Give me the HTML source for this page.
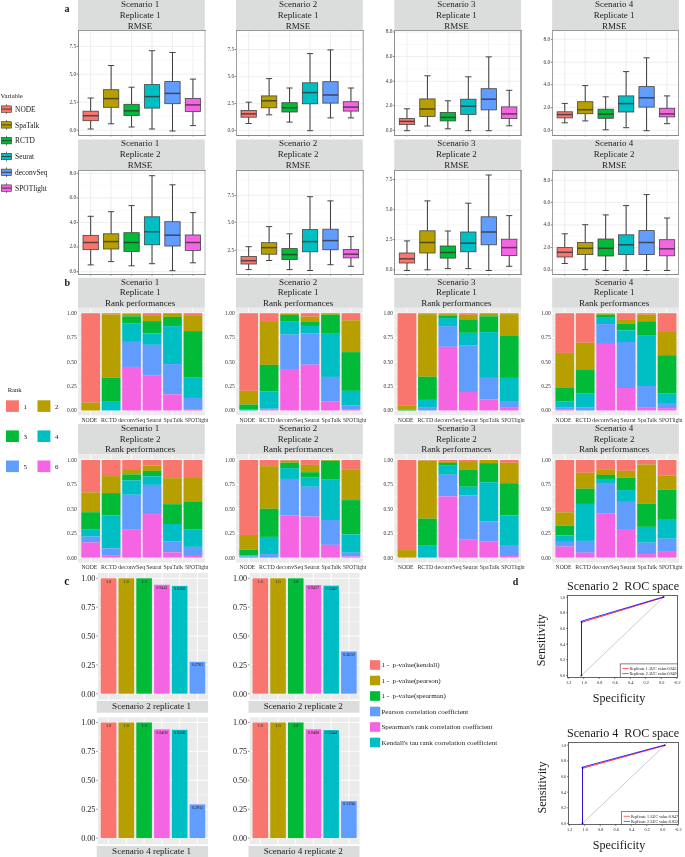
<!DOCTYPE html>
<html><head><meta charset="utf-8"><style>
html,body{margin:0;padding:0;background:#fff;}
body{width:685px;height:857px;overflow:hidden;}
svg{display:block;will-change:transform;font-family:"Liberation Serif", serif;}
</style></head><body>
<svg width="685" height="857" viewBox="0 0 685 857">
<rect x="0" y="0" width="685" height="857" fill="#FFFFFF"/>
<rect x="78.00" y="-1.00" width="126.80" height="31.20" fill="#DBDCDC"/>
<text x="140.10" y="6.95" font-size="9.0" text-anchor="middle" fill="#222" font-weight="normal">Scenario 1</text>
<text x="140.10" y="17.80" font-size="9.0" text-anchor="middle" fill="#222" font-weight="normal">Replicate 1</text>
<text x="140.10" y="28.65" font-size="9.0" text-anchor="middle" fill="#222" font-weight="normal">RMSE</text>
<rect x="78.00" y="30.20" width="126.80" height="104.80" fill="#FFFFFF"/>
<line x1="78.00" y1="116.20" x2="204.80" y2="116.20" stroke="#F2F2F2" stroke-width="0.5"/>
<line x1="78.00" y1="88.20" x2="204.80" y2="88.20" stroke="#F2F2F2" stroke-width="0.5"/>
<line x1="78.00" y1="60.20" x2="204.80" y2="60.20" stroke="#F2F2F2" stroke-width="0.5"/>
<line x1="78.00" y1="32.20" x2="204.80" y2="32.20" stroke="#F2F2F2" stroke-width="0.5"/>
<line x1="78.00" y1="130.20" x2="204.80" y2="130.20" stroke="#EBEBEB" stroke-width="0.8"/>
<line x1="78.00" y1="102.20" x2="204.80" y2="102.20" stroke="#EBEBEB" stroke-width="0.8"/>
<line x1="78.00" y1="74.20" x2="204.80" y2="74.20" stroke="#EBEBEB" stroke-width="0.8"/>
<line x1="78.00" y1="46.40" x2="204.80" y2="46.40" stroke="#EBEBEB" stroke-width="0.8"/>
<line x1="90.67" y1="30.20" x2="90.67" y2="135.00" stroke="#EBEBEB" stroke-width="0.8"/>
<line x1="111.12" y1="30.20" x2="111.12" y2="135.00" stroke="#EBEBEB" stroke-width="0.8"/>
<line x1="131.57" y1="30.20" x2="131.57" y2="135.00" stroke="#EBEBEB" stroke-width="0.8"/>
<line x1="152.03" y1="30.20" x2="152.03" y2="135.00" stroke="#EBEBEB" stroke-width="0.8"/>
<line x1="172.48" y1="30.20" x2="172.48" y2="135.00" stroke="#EBEBEB" stroke-width="0.8"/>
<line x1="192.93" y1="30.20" x2="192.93" y2="135.00" stroke="#EBEBEB" stroke-width="0.8"/>
<line x1="90.67" y1="98.00" x2="90.67" y2="111.20" stroke="#3a3a3a" stroke-width="1.0"/>
<line x1="90.67" y1="120.70" x2="90.67" y2="129.00" stroke="#3a3a3a" stroke-width="1.0"/>
<line x1="87.60" y1="98.00" x2="93.74" y2="98.00" stroke="#444444" stroke-width="1.0"/>
<line x1="87.60" y1="129.00" x2="93.74" y2="129.00" stroke="#444444" stroke-width="1.0"/>
<rect x="83.00" y="111.20" width="15.34" height="9.50" fill="#F8766D" stroke="#444444" stroke-width="0.8"/>
<line x1="83.00" y1="115.70" x2="98.34" y2="115.70" stroke="#333333" stroke-width="1.5" stroke-opacity="0.8"/>
<line x1="90.67" y1="135.00" x2="90.67" y2="136.50" stroke="#555555" stroke-width="0.6"/>
<line x1="111.12" y1="65.50" x2="111.12" y2="89.70" stroke="#3a3a3a" stroke-width="1.0"/>
<line x1="111.12" y1="107.30" x2="111.12" y2="123.80" stroke="#3a3a3a" stroke-width="1.0"/>
<line x1="108.05" y1="65.50" x2="114.19" y2="65.50" stroke="#444444" stroke-width="1.0"/>
<line x1="108.05" y1="123.80" x2="114.19" y2="123.80" stroke="#444444" stroke-width="1.0"/>
<rect x="103.45" y="89.70" width="15.34" height="17.60" fill="#B79F00" stroke="#444444" stroke-width="0.8"/>
<line x1="103.45" y1="98.60" x2="118.79" y2="98.60" stroke="#333333" stroke-width="1.5" stroke-opacity="0.8"/>
<line x1="111.12" y1="135.00" x2="111.12" y2="136.50" stroke="#555555" stroke-width="0.6"/>
<line x1="131.57" y1="87.20" x2="131.57" y2="104.30" stroke="#3a3a3a" stroke-width="1.0"/>
<line x1="131.57" y1="115.50" x2="131.57" y2="127.00" stroke="#3a3a3a" stroke-width="1.0"/>
<line x1="128.51" y1="87.20" x2="134.64" y2="87.20" stroke="#444444" stroke-width="1.0"/>
<line x1="128.51" y1="127.00" x2="134.64" y2="127.00" stroke="#444444" stroke-width="1.0"/>
<rect x="123.90" y="104.30" width="15.34" height="11.20" fill="#00BA38" stroke="#444444" stroke-width="0.8"/>
<line x1="123.90" y1="110.80" x2="139.24" y2="110.80" stroke="#333333" stroke-width="1.5" stroke-opacity="0.8"/>
<line x1="131.57" y1="135.00" x2="131.57" y2="136.50" stroke="#555555" stroke-width="0.6"/>
<line x1="152.03" y1="50.70" x2="152.03" y2="84.60" stroke="#3a3a3a" stroke-width="1.0"/>
<line x1="152.03" y1="108.10" x2="152.03" y2="129.00" stroke="#3a3a3a" stroke-width="1.0"/>
<line x1="148.96" y1="50.70" x2="155.09" y2="50.70" stroke="#444444" stroke-width="1.0"/>
<line x1="148.96" y1="129.00" x2="155.09" y2="129.00" stroke="#444444" stroke-width="1.0"/>
<rect x="144.36" y="84.60" width="15.34" height="23.50" fill="#00BFC4" stroke="#444444" stroke-width="0.8"/>
<line x1="144.36" y1="96.60" x2="159.70" y2="96.60" stroke="#333333" stroke-width="1.5" stroke-opacity="0.8"/>
<line x1="152.03" y1="135.00" x2="152.03" y2="136.50" stroke="#555555" stroke-width="0.6"/>
<line x1="172.48" y1="52.50" x2="172.48" y2="81.60" stroke="#3a3a3a" stroke-width="1.0"/>
<line x1="172.48" y1="103.70" x2="172.48" y2="131.00" stroke="#3a3a3a" stroke-width="1.0"/>
<line x1="169.41" y1="52.50" x2="175.55" y2="52.50" stroke="#444444" stroke-width="1.0"/>
<line x1="169.41" y1="131.00" x2="175.55" y2="131.00" stroke="#444444" stroke-width="1.0"/>
<rect x="164.81" y="81.60" width="15.34" height="22.10" fill="#619CFF" stroke="#444444" stroke-width="0.8"/>
<line x1="164.81" y1="93.40" x2="180.15" y2="93.40" stroke="#333333" stroke-width="1.5" stroke-opacity="0.8"/>
<line x1="172.48" y1="135.00" x2="172.48" y2="136.50" stroke="#555555" stroke-width="0.6"/>
<line x1="192.93" y1="79.10" x2="192.93" y2="98.40" stroke="#3a3a3a" stroke-width="1.0"/>
<line x1="192.93" y1="111.40" x2="192.93" y2="125.60" stroke="#3a3a3a" stroke-width="1.0"/>
<line x1="189.86" y1="79.10" x2="196.00" y2="79.10" stroke="#444444" stroke-width="1.0"/>
<line x1="189.86" y1="125.60" x2="196.00" y2="125.60" stroke="#444444" stroke-width="1.0"/>
<rect x="185.26" y="98.40" width="15.34" height="13.00" fill="#F564E3" stroke="#444444" stroke-width="0.8"/>
<line x1="185.26" y1="104.90" x2="200.60" y2="104.90" stroke="#333333" stroke-width="1.5" stroke-opacity="0.8"/>
<line x1="192.93" y1="135.00" x2="192.93" y2="136.50" stroke="#555555" stroke-width="0.6"/>
<line x1="78.00" y1="30.50" x2="206.00" y2="30.50" stroke="#999999" stroke-width="1"/>
<line x1="78.00" y1="135.50" x2="206.00" y2="135.50" stroke="#8a8a8a" stroke-width="1"/>
<line x1="78.50" y1="30.50" x2="78.50" y2="135.50" stroke="#8a8a8a" stroke-width="1"/>
<line x1="205.00" y1="31.00" x2="205.00" y2="135.00" stroke="#dddddd" stroke-width="2"/>
<line x1="76.50" y1="130.20" x2="78.00" y2="130.20" stroke="#333333" stroke-width="0.6"/>
<text x="76.10" y="131.50" font-size="5.3" text-anchor="end" fill="#333333" font-weight="normal">0.0</text>
<line x1="76.50" y1="102.20" x2="78.00" y2="102.20" stroke="#333333" stroke-width="0.6"/>
<text x="76.10" y="103.50" font-size="5.3" text-anchor="end" fill="#333333" font-weight="normal">2.5</text>
<line x1="76.50" y1="74.20" x2="78.00" y2="74.20" stroke="#333333" stroke-width="0.6"/>
<text x="76.10" y="75.50" font-size="5.3" text-anchor="end" fill="#333333" font-weight="normal">5.0</text>
<line x1="76.50" y1="46.40" x2="78.00" y2="46.40" stroke="#333333" stroke-width="0.6"/>
<text x="76.10" y="47.70" font-size="5.3" text-anchor="end" fill="#333333" font-weight="normal">7.5</text>
<rect x="236.00" y="-1.00" width="126.80" height="31.20" fill="#DBDCDC"/>
<text x="298.10" y="6.95" font-size="9.0" text-anchor="middle" fill="#222" font-weight="normal">Scenario 2</text>
<text x="298.10" y="17.80" font-size="9.0" text-anchor="middle" fill="#222" font-weight="normal">Replicate 1</text>
<text x="298.10" y="28.65" font-size="9.0" text-anchor="middle" fill="#222" font-weight="normal">RMSE</text>
<rect x="236.00" y="30.20" width="126.80" height="104.80" fill="#FFFFFF"/>
<line x1="236.00" y1="116.85" x2="362.80" y2="116.85" stroke="#F2F2F2" stroke-width="0.5"/>
<line x1="236.00" y1="89.95" x2="362.80" y2="89.95" stroke="#F2F2F2" stroke-width="0.5"/>
<line x1="236.00" y1="63.05" x2="362.80" y2="63.05" stroke="#F2F2F2" stroke-width="0.5"/>
<line x1="236.00" y1="36.15" x2="362.80" y2="36.15" stroke="#F2F2F2" stroke-width="0.5"/>
<line x1="236.00" y1="130.30" x2="362.80" y2="130.30" stroke="#EBEBEB" stroke-width="0.8"/>
<line x1="236.00" y1="103.40" x2="362.80" y2="103.40" stroke="#EBEBEB" stroke-width="0.8"/>
<line x1="236.00" y1="76.60" x2="362.80" y2="76.60" stroke="#EBEBEB" stroke-width="0.8"/>
<line x1="236.00" y1="49.50" x2="362.80" y2="49.50" stroke="#EBEBEB" stroke-width="0.8"/>
<line x1="248.67" y1="30.20" x2="248.67" y2="135.00" stroke="#EBEBEB" stroke-width="0.8"/>
<line x1="269.12" y1="30.20" x2="269.12" y2="135.00" stroke="#EBEBEB" stroke-width="0.8"/>
<line x1="289.57" y1="30.20" x2="289.57" y2="135.00" stroke="#EBEBEB" stroke-width="0.8"/>
<line x1="310.03" y1="30.20" x2="310.03" y2="135.00" stroke="#EBEBEB" stroke-width="0.8"/>
<line x1="330.48" y1="30.20" x2="330.48" y2="135.00" stroke="#EBEBEB" stroke-width="0.8"/>
<line x1="350.93" y1="30.20" x2="350.93" y2="135.00" stroke="#EBEBEB" stroke-width="0.8"/>
<line x1="248.67" y1="102.20" x2="248.67" y2="110.40" stroke="#3a3a3a" stroke-width="1.0"/>
<line x1="248.67" y1="117.20" x2="248.67" y2="123.50" stroke="#3a3a3a" stroke-width="1.0"/>
<line x1="245.60" y1="102.20" x2="251.74" y2="102.20" stroke="#444444" stroke-width="1.0"/>
<line x1="245.60" y1="123.50" x2="251.74" y2="123.50" stroke="#444444" stroke-width="1.0"/>
<rect x="241.00" y="110.40" width="15.34" height="6.80" fill="#F8766D" stroke="#444444" stroke-width="0.8"/>
<line x1="241.00" y1="113.90" x2="256.34" y2="113.90" stroke="#333333" stroke-width="1.5" stroke-opacity="0.8"/>
<line x1="248.67" y1="135.00" x2="248.67" y2="136.50" stroke="#555555" stroke-width="0.6"/>
<line x1="269.12" y1="78.60" x2="269.12" y2="95.90" stroke="#3a3a3a" stroke-width="1.0"/>
<line x1="269.12" y1="107.80" x2="269.12" y2="114.80" stroke="#3a3a3a" stroke-width="1.0"/>
<line x1="266.05" y1="78.60" x2="272.19" y2="78.60" stroke="#444444" stroke-width="1.0"/>
<line x1="266.05" y1="114.80" x2="272.19" y2="114.80" stroke="#444444" stroke-width="1.0"/>
<rect x="261.45" y="95.90" width="15.34" height="11.90" fill="#B79F00" stroke="#444444" stroke-width="0.8"/>
<line x1="261.45" y1="100.80" x2="276.79" y2="100.80" stroke="#333333" stroke-width="1.5" stroke-opacity="0.8"/>
<line x1="269.12" y1="135.00" x2="269.12" y2="136.50" stroke="#555555" stroke-width="0.6"/>
<line x1="289.57" y1="88.00" x2="289.57" y2="102.70" stroke="#3a3a3a" stroke-width="1.0"/>
<line x1="289.57" y1="112.00" x2="289.57" y2="122.10" stroke="#3a3a3a" stroke-width="1.0"/>
<line x1="286.51" y1="88.00" x2="292.64" y2="88.00" stroke="#444444" stroke-width="1.0"/>
<line x1="286.51" y1="122.10" x2="292.64" y2="122.10" stroke="#444444" stroke-width="1.0"/>
<rect x="281.90" y="102.70" width="15.34" height="9.30" fill="#00BA38" stroke="#444444" stroke-width="0.8"/>
<line x1="281.90" y1="107.80" x2="297.24" y2="107.80" stroke="#333333" stroke-width="1.5" stroke-opacity="0.8"/>
<line x1="289.57" y1="135.00" x2="289.57" y2="136.50" stroke="#555555" stroke-width="0.6"/>
<line x1="310.03" y1="53.60" x2="310.03" y2="82.80" stroke="#3a3a3a" stroke-width="1.0"/>
<line x1="310.03" y1="103.80" x2="310.03" y2="130.70" stroke="#3a3a3a" stroke-width="1.0"/>
<line x1="306.96" y1="53.60" x2="313.09" y2="53.60" stroke="#444444" stroke-width="1.0"/>
<line x1="306.96" y1="130.70" x2="313.09" y2="130.70" stroke="#444444" stroke-width="1.0"/>
<rect x="302.36" y="82.80" width="15.34" height="21.00" fill="#00BFC4" stroke="#444444" stroke-width="0.8"/>
<line x1="302.36" y1="92.60" x2="317.70" y2="92.60" stroke="#333333" stroke-width="1.5" stroke-opacity="0.8"/>
<line x1="310.03" y1="135.00" x2="310.03" y2="136.50" stroke="#555555" stroke-width="0.6"/>
<line x1="330.48" y1="49.90" x2="330.48" y2="81.70" stroke="#3a3a3a" stroke-width="1.0"/>
<line x1="330.48" y1="103.10" x2="330.48" y2="117.90" stroke="#3a3a3a" stroke-width="1.0"/>
<line x1="327.41" y1="49.90" x2="333.55" y2="49.90" stroke="#444444" stroke-width="1.0"/>
<line x1="327.41" y1="117.90" x2="333.55" y2="117.90" stroke="#444444" stroke-width="1.0"/>
<rect x="322.81" y="81.70" width="15.34" height="21.40" fill="#619CFF" stroke="#444444" stroke-width="0.8"/>
<line x1="322.81" y1="95.00" x2="338.15" y2="95.00" stroke="#333333" stroke-width="1.5" stroke-opacity="0.8"/>
<line x1="330.48" y1="135.00" x2="330.48" y2="136.50" stroke="#555555" stroke-width="0.6"/>
<line x1="350.93" y1="88.00" x2="350.93" y2="101.70" stroke="#3a3a3a" stroke-width="1.0"/>
<line x1="350.93" y1="111.10" x2="350.93" y2="117.90" stroke="#3a3a3a" stroke-width="1.0"/>
<line x1="347.86" y1="88.00" x2="354.00" y2="88.00" stroke="#444444" stroke-width="1.0"/>
<line x1="347.86" y1="117.90" x2="354.00" y2="117.90" stroke="#444444" stroke-width="1.0"/>
<rect x="343.26" y="101.70" width="15.34" height="9.40" fill="#F564E3" stroke="#444444" stroke-width="0.8"/>
<line x1="343.26" y1="107.10" x2="358.60" y2="107.10" stroke="#333333" stroke-width="1.5" stroke-opacity="0.8"/>
<line x1="350.93" y1="135.00" x2="350.93" y2="136.50" stroke="#555555" stroke-width="0.6"/>
<line x1="236.00" y1="30.50" x2="364.00" y2="30.50" stroke="#999999" stroke-width="1"/>
<line x1="236.00" y1="135.50" x2="364.00" y2="135.50" stroke="#8a8a8a" stroke-width="1"/>
<line x1="236.50" y1="30.50" x2="236.50" y2="135.50" stroke="#a0a0a0" stroke-width="1"/>
<line x1="362.50" y1="31.00" x2="362.50" y2="135.00" stroke="#e0e0e0" stroke-width="1"/>
<line x1="363.50" y1="31.00" x2="363.50" y2="135.00" stroke="#b8b8b8" stroke-width="1"/>
<line x1="234.50" y1="130.30" x2="236.00" y2="130.30" stroke="#333333" stroke-width="0.6"/>
<text x="234.10" y="131.60" font-size="5.3" text-anchor="end" fill="#333333" font-weight="normal">0.0</text>
<line x1="234.50" y1="103.40" x2="236.00" y2="103.40" stroke="#333333" stroke-width="0.6"/>
<text x="234.10" y="104.70" font-size="5.3" text-anchor="end" fill="#333333" font-weight="normal">2.5</text>
<line x1="234.50" y1="76.60" x2="236.00" y2="76.60" stroke="#333333" stroke-width="0.6"/>
<text x="234.10" y="77.90" font-size="5.3" text-anchor="end" fill="#333333" font-weight="normal">5.0</text>
<line x1="234.50" y1="49.50" x2="236.00" y2="49.50" stroke="#333333" stroke-width="0.6"/>
<text x="234.10" y="50.80" font-size="5.3" text-anchor="end" fill="#333333" font-weight="normal">7.5</text>
<rect x="394.30" y="-1.00" width="126.80" height="31.20" fill="#DBDCDC"/>
<text x="456.40" y="6.95" font-size="9.0" text-anchor="middle" fill="#222" font-weight="normal">Scenario 3</text>
<text x="456.40" y="17.80" font-size="9.0" text-anchor="middle" fill="#222" font-weight="normal">Replicate 1</text>
<text x="456.40" y="28.65" font-size="9.0" text-anchor="middle" fill="#222" font-weight="normal">RMSE</text>
<rect x="394.30" y="30.20" width="126.80" height="104.80" fill="#FFFFFF"/>
<line x1="394.30" y1="118.05" x2="521.10" y2="118.05" stroke="#F2F2F2" stroke-width="0.5"/>
<line x1="394.30" y1="93.55" x2="521.10" y2="93.55" stroke="#F2F2F2" stroke-width="0.5"/>
<line x1="394.30" y1="69.05" x2="521.10" y2="69.05" stroke="#F2F2F2" stroke-width="0.5"/>
<line x1="394.30" y1="44.55" x2="521.10" y2="44.55" stroke="#F2F2F2" stroke-width="0.5"/>
<line x1="394.30" y1="130.30" x2="521.10" y2="130.30" stroke="#EBEBEB" stroke-width="0.8"/>
<line x1="394.30" y1="105.80" x2="521.10" y2="105.80" stroke="#EBEBEB" stroke-width="0.8"/>
<line x1="394.30" y1="81.30" x2="521.10" y2="81.30" stroke="#EBEBEB" stroke-width="0.8"/>
<line x1="394.30" y1="56.50" x2="521.10" y2="56.50" stroke="#EBEBEB" stroke-width="0.8"/>
<line x1="394.30" y1="32.00" x2="521.10" y2="32.00" stroke="#EBEBEB" stroke-width="0.8"/>
<line x1="406.97" y1="30.20" x2="406.97" y2="135.00" stroke="#EBEBEB" stroke-width="0.8"/>
<line x1="427.42" y1="30.20" x2="427.42" y2="135.00" stroke="#EBEBEB" stroke-width="0.8"/>
<line x1="447.87" y1="30.20" x2="447.87" y2="135.00" stroke="#EBEBEB" stroke-width="0.8"/>
<line x1="468.33" y1="30.20" x2="468.33" y2="135.00" stroke="#EBEBEB" stroke-width="0.8"/>
<line x1="488.78" y1="30.20" x2="488.78" y2="135.00" stroke="#EBEBEB" stroke-width="0.8"/>
<line x1="509.23" y1="30.20" x2="509.23" y2="135.00" stroke="#EBEBEB" stroke-width="0.8"/>
<line x1="406.97" y1="108.80" x2="406.97" y2="118.60" stroke="#3a3a3a" stroke-width="1.0"/>
<line x1="406.97" y1="124.60" x2="406.97" y2="130.70" stroke="#3a3a3a" stroke-width="1.0"/>
<line x1="403.90" y1="108.80" x2="410.04" y2="108.80" stroke="#444444" stroke-width="1.0"/>
<line x1="403.90" y1="130.70" x2="410.04" y2="130.70" stroke="#444444" stroke-width="1.0"/>
<rect x="399.30" y="118.60" width="15.34" height="6.00" fill="#F8766D" stroke="#444444" stroke-width="0.8"/>
<line x1="399.30" y1="121.40" x2="414.64" y2="121.40" stroke="#333333" stroke-width="1.5" stroke-opacity="0.8"/>
<line x1="406.97" y1="135.00" x2="406.97" y2="136.50" stroke="#555555" stroke-width="0.6"/>
<line x1="427.42" y1="75.80" x2="427.42" y2="98.90" stroke="#3a3a3a" stroke-width="1.0"/>
<line x1="427.42" y1="116.50" x2="427.42" y2="126.00" stroke="#3a3a3a" stroke-width="1.0"/>
<line x1="424.35" y1="75.80" x2="430.49" y2="75.80" stroke="#444444" stroke-width="1.0"/>
<line x1="424.35" y1="126.00" x2="430.49" y2="126.00" stroke="#444444" stroke-width="1.0"/>
<rect x="419.75" y="98.90" width="15.34" height="17.60" fill="#B79F00" stroke="#444444" stroke-width="0.8"/>
<line x1="419.75" y1="109.00" x2="435.09" y2="109.00" stroke="#333333" stroke-width="1.5" stroke-opacity="0.8"/>
<line x1="427.42" y1="135.00" x2="427.42" y2="136.50" stroke="#555555" stroke-width="0.6"/>
<line x1="447.87" y1="100.80" x2="447.87" y2="112.50" stroke="#3a3a3a" stroke-width="1.0"/>
<line x1="447.87" y1="120.90" x2="447.87" y2="128.80" stroke="#3a3a3a" stroke-width="1.0"/>
<line x1="444.81" y1="100.80" x2="450.94" y2="100.80" stroke="#444444" stroke-width="1.0"/>
<line x1="444.81" y1="128.80" x2="450.94" y2="128.80" stroke="#444444" stroke-width="1.0"/>
<rect x="440.20" y="112.50" width="15.34" height="8.40" fill="#00BA38" stroke="#444444" stroke-width="0.8"/>
<line x1="440.20" y1="117.40" x2="455.54" y2="117.40" stroke="#333333" stroke-width="1.5" stroke-opacity="0.8"/>
<line x1="447.87" y1="135.00" x2="447.87" y2="136.50" stroke="#555555" stroke-width="0.6"/>
<line x1="468.33" y1="76.80" x2="468.33" y2="99.20" stroke="#3a3a3a" stroke-width="1.0"/>
<line x1="468.33" y1="114.40" x2="468.33" y2="130.70" stroke="#3a3a3a" stroke-width="1.0"/>
<line x1="465.26" y1="76.80" x2="471.39" y2="76.80" stroke="#444444" stroke-width="1.0"/>
<line x1="465.26" y1="130.70" x2="471.39" y2="130.70" stroke="#444444" stroke-width="1.0"/>
<rect x="460.66" y="99.20" width="15.34" height="15.20" fill="#00BFC4" stroke="#444444" stroke-width="0.8"/>
<line x1="460.66" y1="106.20" x2="476.00" y2="106.20" stroke="#333333" stroke-width="1.5" stroke-opacity="0.8"/>
<line x1="468.33" y1="135.00" x2="468.33" y2="136.50" stroke="#555555" stroke-width="0.6"/>
<line x1="488.78" y1="56.90" x2="488.78" y2="88.70" stroke="#3a3a3a" stroke-width="1.0"/>
<line x1="488.78" y1="109.90" x2="488.78" y2="130.70" stroke="#3a3a3a" stroke-width="1.0"/>
<line x1="485.71" y1="56.90" x2="491.85" y2="56.90" stroke="#444444" stroke-width="1.0"/>
<line x1="485.71" y1="130.70" x2="491.85" y2="130.70" stroke="#444444" stroke-width="1.0"/>
<rect x="481.11" y="88.70" width="15.34" height="21.20" fill="#619CFF" stroke="#444444" stroke-width="0.8"/>
<line x1="481.11" y1="99.20" x2="496.45" y2="99.20" stroke="#333333" stroke-width="1.5" stroke-opacity="0.8"/>
<line x1="488.78" y1="135.00" x2="488.78" y2="136.50" stroke="#555555" stroke-width="0.6"/>
<line x1="509.23" y1="90.30" x2="509.23" y2="106.90" stroke="#3a3a3a" stroke-width="1.0"/>
<line x1="509.23" y1="118.60" x2="509.23" y2="125.80" stroke="#3a3a3a" stroke-width="1.0"/>
<line x1="506.16" y1="90.30" x2="512.30" y2="90.30" stroke="#444444" stroke-width="1.0"/>
<line x1="506.16" y1="125.80" x2="512.30" y2="125.80" stroke="#444444" stroke-width="1.0"/>
<rect x="501.56" y="106.90" width="15.34" height="11.70" fill="#F564E3" stroke="#444444" stroke-width="0.8"/>
<line x1="501.56" y1="113.90" x2="516.90" y2="113.90" stroke="#333333" stroke-width="1.5" stroke-opacity="0.8"/>
<line x1="509.23" y1="135.00" x2="509.23" y2="136.50" stroke="#555555" stroke-width="0.6"/>
<line x1="394.00" y1="30.50" x2="522.00" y2="30.50" stroke="#999999" stroke-width="1"/>
<line x1="394.00" y1="135.50" x2="522.00" y2="135.50" stroke="#8a8a8a" stroke-width="1"/>
<line x1="394.50" y1="30.50" x2="394.50" y2="135.50" stroke="#909090" stroke-width="1"/>
<line x1="521.00" y1="31.00" x2="521.00" y2="135.00" stroke="#b0b0b0" stroke-width="2"/>
<line x1="392.80" y1="130.30" x2="394.30" y2="130.30" stroke="#333333" stroke-width="0.6"/>
<text x="392.40" y="131.60" font-size="5.3" text-anchor="end" fill="#333333" font-weight="normal">0.0</text>
<line x1="392.80" y1="105.80" x2="394.30" y2="105.80" stroke="#333333" stroke-width="0.6"/>
<text x="392.40" y="107.10" font-size="5.3" text-anchor="end" fill="#333333" font-weight="normal">2.0</text>
<line x1="392.80" y1="81.30" x2="394.30" y2="81.30" stroke="#333333" stroke-width="0.6"/>
<text x="392.40" y="82.60" font-size="5.3" text-anchor="end" fill="#333333" font-weight="normal">4.0</text>
<line x1="392.80" y1="56.50" x2="394.30" y2="56.50" stroke="#333333" stroke-width="0.6"/>
<text x="392.40" y="57.80" font-size="5.3" text-anchor="end" fill="#333333" font-weight="normal">6.0</text>
<line x1="392.80" y1="32.00" x2="394.30" y2="32.00" stroke="#333333" stroke-width="0.6"/>
<text x="392.40" y="33.30" font-size="5.3" text-anchor="end" fill="#333333" font-weight="normal">8.0</text>
<rect x="552.10" y="-1.00" width="126.80" height="31.20" fill="#DBDCDC"/>
<text x="614.20" y="6.95" font-size="9.0" text-anchor="middle" fill="#222" font-weight="normal">Scenario 4</text>
<text x="614.20" y="17.80" font-size="9.0" text-anchor="middle" fill="#222" font-weight="normal">Replicate 1</text>
<text x="614.20" y="28.65" font-size="9.0" text-anchor="middle" fill="#222" font-weight="normal">RMSE</text>
<rect x="552.10" y="30.20" width="126.80" height="104.80" fill="#FFFFFF"/>
<line x1="552.10" y1="119.00" x2="678.90" y2="119.00" stroke="#F2F2F2" stroke-width="0.5"/>
<line x1="552.10" y1="96.40" x2="678.90" y2="96.40" stroke="#F2F2F2" stroke-width="0.5"/>
<line x1="552.10" y1="73.80" x2="678.90" y2="73.80" stroke="#F2F2F2" stroke-width="0.5"/>
<line x1="552.10" y1="51.20" x2="678.90" y2="51.20" stroke="#F2F2F2" stroke-width="0.5"/>
<line x1="552.10" y1="130.30" x2="678.90" y2="130.30" stroke="#EBEBEB" stroke-width="0.8"/>
<line x1="552.10" y1="107.70" x2="678.90" y2="107.70" stroke="#EBEBEB" stroke-width="0.8"/>
<line x1="552.10" y1="84.80" x2="678.90" y2="84.80" stroke="#EBEBEB" stroke-width="0.8"/>
<line x1="552.10" y1="62.30" x2="678.90" y2="62.30" stroke="#EBEBEB" stroke-width="0.8"/>
<line x1="552.10" y1="39.20" x2="678.90" y2="39.20" stroke="#EBEBEB" stroke-width="0.8"/>
<line x1="564.77" y1="30.20" x2="564.77" y2="135.00" stroke="#EBEBEB" stroke-width="0.8"/>
<line x1="585.22" y1="30.20" x2="585.22" y2="135.00" stroke="#EBEBEB" stroke-width="0.8"/>
<line x1="605.67" y1="30.20" x2="605.67" y2="135.00" stroke="#EBEBEB" stroke-width="0.8"/>
<line x1="626.13" y1="30.20" x2="626.13" y2="135.00" stroke="#EBEBEB" stroke-width="0.8"/>
<line x1="646.58" y1="30.20" x2="646.58" y2="135.00" stroke="#EBEBEB" stroke-width="0.8"/>
<line x1="667.03" y1="30.20" x2="667.03" y2="135.00" stroke="#EBEBEB" stroke-width="0.8"/>
<line x1="564.77" y1="103.40" x2="564.77" y2="111.80" stroke="#3a3a3a" stroke-width="1.0"/>
<line x1="564.77" y1="117.90" x2="564.77" y2="122.80" stroke="#3a3a3a" stroke-width="1.0"/>
<line x1="561.70" y1="103.40" x2="567.84" y2="103.40" stroke="#444444" stroke-width="1.0"/>
<line x1="561.70" y1="122.80" x2="567.84" y2="122.80" stroke="#444444" stroke-width="1.0"/>
<rect x="557.10" y="111.80" width="15.34" height="6.10" fill="#F8766D" stroke="#444444" stroke-width="0.8"/>
<line x1="557.10" y1="114.60" x2="572.44" y2="114.60" stroke="#333333" stroke-width="1.5" stroke-opacity="0.8"/>
<line x1="564.77" y1="135.00" x2="564.77" y2="136.50" stroke="#555555" stroke-width="0.6"/>
<line x1="585.22" y1="85.60" x2="585.22" y2="101.70" stroke="#3a3a3a" stroke-width="1.0"/>
<line x1="585.22" y1="113.70" x2="585.22" y2="120.90" stroke="#3a3a3a" stroke-width="1.0"/>
<line x1="582.15" y1="85.60" x2="588.29" y2="85.60" stroke="#444444" stroke-width="1.0"/>
<line x1="582.15" y1="120.90" x2="588.29" y2="120.90" stroke="#444444" stroke-width="1.0"/>
<rect x="577.55" y="101.70" width="15.34" height="12.00" fill="#B79F00" stroke="#444444" stroke-width="0.8"/>
<line x1="577.55" y1="109.70" x2="592.89" y2="109.70" stroke="#333333" stroke-width="1.5" stroke-opacity="0.8"/>
<line x1="585.22" y1="135.00" x2="585.22" y2="136.50" stroke="#555555" stroke-width="0.6"/>
<line x1="605.67" y1="96.80" x2="605.67" y2="109.20" stroke="#3a3a3a" stroke-width="1.0"/>
<line x1="605.67" y1="118.30" x2="605.67" y2="129.80" stroke="#3a3a3a" stroke-width="1.0"/>
<line x1="602.61" y1="96.80" x2="608.74" y2="96.80" stroke="#444444" stroke-width="1.0"/>
<line x1="602.61" y1="129.80" x2="608.74" y2="129.80" stroke="#444444" stroke-width="1.0"/>
<rect x="598.00" y="109.20" width="15.34" height="9.10" fill="#00BA38" stroke="#444444" stroke-width="0.8"/>
<line x1="598.00" y1="114.10" x2="613.34" y2="114.10" stroke="#333333" stroke-width="1.5" stroke-opacity="0.8"/>
<line x1="605.67" y1="135.00" x2="605.67" y2="136.50" stroke="#555555" stroke-width="0.6"/>
<line x1="626.13" y1="71.60" x2="626.13" y2="95.90" stroke="#3a3a3a" stroke-width="1.0"/>
<line x1="626.13" y1="112.00" x2="626.13" y2="127.70" stroke="#3a3a3a" stroke-width="1.0"/>
<line x1="623.06" y1="71.60" x2="629.19" y2="71.60" stroke="#444444" stroke-width="1.0"/>
<line x1="623.06" y1="127.70" x2="629.19" y2="127.70" stroke="#444444" stroke-width="1.0"/>
<rect x="618.46" y="95.90" width="15.34" height="16.10" fill="#00BFC4" stroke="#444444" stroke-width="0.8"/>
<line x1="618.46" y1="103.60" x2="633.80" y2="103.60" stroke="#333333" stroke-width="1.5" stroke-opacity="0.8"/>
<line x1="626.13" y1="135.00" x2="626.13" y2="136.50" stroke="#555555" stroke-width="0.6"/>
<line x1="646.58" y1="57.80" x2="646.58" y2="86.60" stroke="#3a3a3a" stroke-width="1.0"/>
<line x1="646.58" y1="107.10" x2="646.58" y2="130.70" stroke="#3a3a3a" stroke-width="1.0"/>
<line x1="643.51" y1="57.80" x2="649.65" y2="57.80" stroke="#444444" stroke-width="1.0"/>
<line x1="643.51" y1="130.70" x2="649.65" y2="130.70" stroke="#444444" stroke-width="1.0"/>
<rect x="638.91" y="86.60" width="15.34" height="20.50" fill="#619CFF" stroke="#444444" stroke-width="0.8"/>
<line x1="638.91" y1="97.80" x2="654.25" y2="97.80" stroke="#333333" stroke-width="1.5" stroke-opacity="0.8"/>
<line x1="646.58" y1="135.00" x2="646.58" y2="136.50" stroke="#555555" stroke-width="0.6"/>
<line x1="667.03" y1="95.90" x2="667.03" y2="108.30" stroke="#3a3a3a" stroke-width="1.0"/>
<line x1="667.03" y1="116.90" x2="667.03" y2="123.70" stroke="#3a3a3a" stroke-width="1.0"/>
<line x1="663.96" y1="95.90" x2="670.10" y2="95.90" stroke="#444444" stroke-width="1.0"/>
<line x1="663.96" y1="123.70" x2="670.10" y2="123.70" stroke="#444444" stroke-width="1.0"/>
<rect x="659.36" y="108.30" width="15.34" height="8.60" fill="#F564E3" stroke="#444444" stroke-width="0.8"/>
<line x1="659.36" y1="113.90" x2="674.70" y2="113.90" stroke="#333333" stroke-width="1.5" stroke-opacity="0.8"/>
<line x1="667.03" y1="135.00" x2="667.03" y2="136.50" stroke="#555555" stroke-width="0.6"/>
<line x1="552.00" y1="30.50" x2="679.00" y2="30.50" stroke="#999999" stroke-width="1"/>
<line x1="552.00" y1="135.50" x2="679.00" y2="135.50" stroke="#8a8a8a" stroke-width="1"/>
<line x1="552.50" y1="30.50" x2="552.50" y2="135.50" stroke="#a0a0a0" stroke-width="1"/>
<line x1="678.50" y1="31.00" x2="678.50" y2="135.00" stroke="#a0a0a0" stroke-width="1"/>
<line x1="550.60" y1="130.30" x2="552.10" y2="130.30" stroke="#333333" stroke-width="0.6"/>
<text x="550.20" y="131.60" font-size="5.3" text-anchor="end" fill="#333333" font-weight="normal">0.0</text>
<line x1="550.60" y1="107.70" x2="552.10" y2="107.70" stroke="#333333" stroke-width="0.6"/>
<text x="550.20" y="109.00" font-size="5.3" text-anchor="end" fill="#333333" font-weight="normal">2.0</text>
<line x1="550.60" y1="84.80" x2="552.10" y2="84.80" stroke="#333333" stroke-width="0.6"/>
<text x="550.20" y="86.10" font-size="5.3" text-anchor="end" fill="#333333" font-weight="normal">4.0</text>
<line x1="550.60" y1="62.30" x2="552.10" y2="62.30" stroke="#333333" stroke-width="0.6"/>
<text x="550.20" y="63.60" font-size="5.3" text-anchor="end" fill="#333333" font-weight="normal">6.0</text>
<line x1="550.60" y1="39.20" x2="552.10" y2="39.20" stroke="#333333" stroke-width="0.6"/>
<text x="550.20" y="40.50" font-size="5.3" text-anchor="end" fill="#333333" font-weight="normal">8.0</text>
<rect x="78.00" y="139.50" width="126.80" height="30.60" fill="#DBDCDC"/>
<text x="140.10" y="145.90" font-size="9.0" text-anchor="middle" fill="#222" font-weight="normal">Scenario 1</text>
<text x="140.10" y="156.85" font-size="9.0" text-anchor="middle" fill="#222" font-weight="normal">Replicate 2</text>
<text x="140.10" y="167.80" font-size="9.0" text-anchor="middle" fill="#222" font-weight="normal">RMSE</text>
<rect x="78.00" y="170.10" width="126.80" height="104.20" fill="#FFFFFF"/>
<line x1="78.00" y1="259.35" x2="204.80" y2="259.35" stroke="#F2F2F2" stroke-width="0.5"/>
<line x1="78.00" y1="234.65" x2="204.80" y2="234.65" stroke="#F2F2F2" stroke-width="0.5"/>
<line x1="78.00" y1="209.95" x2="204.80" y2="209.95" stroke="#F2F2F2" stroke-width="0.5"/>
<line x1="78.00" y1="185.25" x2="204.80" y2="185.25" stroke="#F2F2F2" stroke-width="0.5"/>
<line x1="78.00" y1="271.70" x2="204.80" y2="271.70" stroke="#EBEBEB" stroke-width="0.8"/>
<line x1="78.00" y1="247.00" x2="204.80" y2="247.00" stroke="#EBEBEB" stroke-width="0.8"/>
<line x1="78.00" y1="222.50" x2="204.80" y2="222.50" stroke="#EBEBEB" stroke-width="0.8"/>
<line x1="78.00" y1="197.90" x2="204.80" y2="197.90" stroke="#EBEBEB" stroke-width="0.8"/>
<line x1="78.00" y1="173.20" x2="204.80" y2="173.20" stroke="#EBEBEB" stroke-width="0.8"/>
<line x1="90.67" y1="170.10" x2="90.67" y2="274.30" stroke="#EBEBEB" stroke-width="0.8"/>
<line x1="111.12" y1="170.10" x2="111.12" y2="274.30" stroke="#EBEBEB" stroke-width="0.8"/>
<line x1="131.57" y1="170.10" x2="131.57" y2="274.30" stroke="#EBEBEB" stroke-width="0.8"/>
<line x1="152.03" y1="170.10" x2="152.03" y2="274.30" stroke="#EBEBEB" stroke-width="0.8"/>
<line x1="172.48" y1="170.10" x2="172.48" y2="274.30" stroke="#EBEBEB" stroke-width="0.8"/>
<line x1="192.93" y1="170.10" x2="192.93" y2="274.30" stroke="#EBEBEB" stroke-width="0.8"/>
<line x1="90.67" y1="216.30" x2="90.67" y2="235.50" stroke="#3a3a3a" stroke-width="1.0"/>
<line x1="90.67" y1="249.70" x2="90.67" y2="264.90" stroke="#3a3a3a" stroke-width="1.0"/>
<line x1="87.60" y1="216.30" x2="93.74" y2="216.30" stroke="#444444" stroke-width="1.0"/>
<line x1="87.60" y1="264.90" x2="93.74" y2="264.90" stroke="#444444" stroke-width="1.0"/>
<rect x="83.00" y="235.50" width="15.34" height="14.20" fill="#F8766D" stroke="#444444" stroke-width="0.8"/>
<line x1="83.00" y1="242.50" x2="98.34" y2="242.50" stroke="#333333" stroke-width="1.5" stroke-opacity="0.8"/>
<line x1="90.67" y1="274.30" x2="90.67" y2="275.80" stroke="#555555" stroke-width="0.6"/>
<line x1="111.12" y1="211.70" x2="111.12" y2="233.80" stroke="#3a3a3a" stroke-width="1.0"/>
<line x1="111.12" y1="249.00" x2="111.12" y2="261.60" stroke="#3a3a3a" stroke-width="1.0"/>
<line x1="108.05" y1="211.70" x2="114.19" y2="211.70" stroke="#444444" stroke-width="1.0"/>
<line x1="108.05" y1="261.60" x2="114.19" y2="261.60" stroke="#444444" stroke-width="1.0"/>
<rect x="103.45" y="233.80" width="15.34" height="15.20" fill="#B79F00" stroke="#444444" stroke-width="0.8"/>
<line x1="103.45" y1="241.60" x2="118.79" y2="241.60" stroke="#333333" stroke-width="1.5" stroke-opacity="0.8"/>
<line x1="111.12" y1="274.30" x2="111.12" y2="275.80" stroke="#555555" stroke-width="0.6"/>
<line x1="131.57" y1="205.60" x2="131.57" y2="232.70" stroke="#3a3a3a" stroke-width="1.0"/>
<line x1="131.57" y1="251.40" x2="131.57" y2="265.80" stroke="#3a3a3a" stroke-width="1.0"/>
<line x1="128.51" y1="205.60" x2="134.64" y2="205.60" stroke="#444444" stroke-width="1.0"/>
<line x1="128.51" y1="265.80" x2="134.64" y2="265.80" stroke="#444444" stroke-width="1.0"/>
<rect x="123.90" y="232.70" width="15.34" height="18.70" fill="#00BA38" stroke="#444444" stroke-width="0.8"/>
<line x1="123.90" y1="242.50" x2="139.24" y2="242.50" stroke="#333333" stroke-width="1.5" stroke-opacity="0.8"/>
<line x1="131.57" y1="274.30" x2="131.57" y2="275.80" stroke="#555555" stroke-width="0.6"/>
<line x1="152.03" y1="175.70" x2="152.03" y2="216.80" stroke="#3a3a3a" stroke-width="1.0"/>
<line x1="152.03" y1="244.80" x2="152.03" y2="263.70" stroke="#3a3a3a" stroke-width="1.0"/>
<line x1="148.96" y1="175.70" x2="155.09" y2="175.70" stroke="#444444" stroke-width="1.0"/>
<line x1="148.96" y1="263.70" x2="155.09" y2="263.70" stroke="#444444" stroke-width="1.0"/>
<rect x="144.36" y="216.80" width="15.34" height="28.00" fill="#00BFC4" stroke="#444444" stroke-width="0.8"/>
<line x1="144.36" y1="231.70" x2="159.70" y2="231.70" stroke="#333333" stroke-width="1.5" stroke-opacity="0.8"/>
<line x1="152.03" y1="274.30" x2="152.03" y2="275.80" stroke="#555555" stroke-width="0.6"/>
<line x1="172.48" y1="184.80" x2="172.48" y2="221.70" stroke="#3a3a3a" stroke-width="1.0"/>
<line x1="172.48" y1="246.00" x2="172.48" y2="270.70" stroke="#3a3a3a" stroke-width="1.0"/>
<line x1="169.41" y1="184.80" x2="175.55" y2="184.80" stroke="#444444" stroke-width="1.0"/>
<line x1="169.41" y1="270.70" x2="175.55" y2="270.70" stroke="#444444" stroke-width="1.0"/>
<rect x="164.81" y="221.70" width="15.34" height="24.30" fill="#619CFF" stroke="#444444" stroke-width="0.8"/>
<line x1="164.81" y1="235.20" x2="180.15" y2="235.20" stroke="#333333" stroke-width="1.5" stroke-opacity="0.8"/>
<line x1="172.48" y1="274.30" x2="172.48" y2="275.80" stroke="#555555" stroke-width="0.6"/>
<line x1="192.93" y1="212.60" x2="192.93" y2="235.00" stroke="#3a3a3a" stroke-width="1.0"/>
<line x1="192.93" y1="250.40" x2="192.93" y2="262.80" stroke="#3a3a3a" stroke-width="1.0"/>
<line x1="189.86" y1="212.60" x2="196.00" y2="212.60" stroke="#444444" stroke-width="1.0"/>
<line x1="189.86" y1="262.80" x2="196.00" y2="262.80" stroke="#444444" stroke-width="1.0"/>
<rect x="185.26" y="235.00" width="15.34" height="15.40" fill="#F564E3" stroke="#444444" stroke-width="0.8"/>
<line x1="185.26" y1="242.50" x2="200.60" y2="242.50" stroke="#333333" stroke-width="1.5" stroke-opacity="0.8"/>
<line x1="192.93" y1="274.30" x2="192.93" y2="275.80" stroke="#555555" stroke-width="0.6"/>
<line x1="78.00" y1="170.50" x2="206.00" y2="170.50" stroke="#999999" stroke-width="1"/>
<line x1="78.00" y1="274.50" x2="206.00" y2="274.50" stroke="#8a8a8a" stroke-width="1"/>
<line x1="78.50" y1="170.50" x2="78.50" y2="274.50" stroke="#8a8a8a" stroke-width="1"/>
<line x1="205.00" y1="171.00" x2="205.00" y2="274.00" stroke="#dddddd" stroke-width="2"/>
<line x1="76.50" y1="271.70" x2="78.00" y2="271.70" stroke="#333333" stroke-width="0.6"/>
<text x="76.10" y="273.00" font-size="5.3" text-anchor="end" fill="#333333" font-weight="normal">0.0</text>
<line x1="76.50" y1="247.00" x2="78.00" y2="247.00" stroke="#333333" stroke-width="0.6"/>
<text x="76.10" y="248.30" font-size="5.3" text-anchor="end" fill="#333333" font-weight="normal">2.0</text>
<line x1="76.50" y1="222.50" x2="78.00" y2="222.50" stroke="#333333" stroke-width="0.6"/>
<text x="76.10" y="223.80" font-size="5.3" text-anchor="end" fill="#333333" font-weight="normal">4.0</text>
<line x1="76.50" y1="197.90" x2="78.00" y2="197.90" stroke="#333333" stroke-width="0.6"/>
<text x="76.10" y="199.20" font-size="5.3" text-anchor="end" fill="#333333" font-weight="normal">6.0</text>
<line x1="76.50" y1="173.20" x2="78.00" y2="173.20" stroke="#333333" stroke-width="0.6"/>
<text x="76.10" y="174.50" font-size="5.3" text-anchor="end" fill="#333333" font-weight="normal">8.0</text>
<rect x="236.00" y="139.50" width="126.80" height="30.60" fill="#DBDCDC"/>
<text x="298.10" y="145.90" font-size="9.0" text-anchor="middle" fill="#222" font-weight="normal">Scenario 2</text>
<text x="298.10" y="156.85" font-size="9.0" text-anchor="middle" fill="#222" font-weight="normal">Replicate 2</text>
<text x="298.10" y="167.80" font-size="9.0" text-anchor="middle" fill="#222" font-weight="normal">RMSE</text>
<rect x="236.00" y="170.10" width="126.80" height="104.20" fill="#FFFFFF"/>
<line x1="236.00" y1="264.35" x2="362.80" y2="264.35" stroke="#F2F2F2" stroke-width="0.5"/>
<line x1="236.00" y1="236.25" x2="362.80" y2="236.25" stroke="#F2F2F2" stroke-width="0.5"/>
<line x1="236.00" y1="208.15" x2="362.80" y2="208.15" stroke="#F2F2F2" stroke-width="0.5"/>
<line x1="236.00" y1="180.05" x2="362.80" y2="180.05" stroke="#F2F2F2" stroke-width="0.5"/>
<line x1="236.00" y1="250.30" x2="362.80" y2="250.30" stroke="#EBEBEB" stroke-width="0.8"/>
<line x1="236.00" y1="222.20" x2="362.80" y2="222.20" stroke="#EBEBEB" stroke-width="0.8"/>
<line x1="236.00" y1="195.40" x2="362.80" y2="195.40" stroke="#EBEBEB" stroke-width="0.8"/>
<line x1="248.67" y1="170.10" x2="248.67" y2="274.30" stroke="#EBEBEB" stroke-width="0.8"/>
<line x1="269.12" y1="170.10" x2="269.12" y2="274.30" stroke="#EBEBEB" stroke-width="0.8"/>
<line x1="289.57" y1="170.10" x2="289.57" y2="274.30" stroke="#EBEBEB" stroke-width="0.8"/>
<line x1="310.03" y1="170.10" x2="310.03" y2="274.30" stroke="#EBEBEB" stroke-width="0.8"/>
<line x1="330.48" y1="170.10" x2="330.48" y2="274.30" stroke="#EBEBEB" stroke-width="0.8"/>
<line x1="350.93" y1="170.10" x2="350.93" y2="274.30" stroke="#EBEBEB" stroke-width="0.8"/>
<line x1="248.67" y1="246.70" x2="248.67" y2="256.50" stroke="#3a3a3a" stroke-width="1.0"/>
<line x1="248.67" y1="264.00" x2="248.67" y2="269.60" stroke="#3a3a3a" stroke-width="1.0"/>
<line x1="245.60" y1="246.70" x2="251.74" y2="246.70" stroke="#444444" stroke-width="1.0"/>
<line x1="245.60" y1="269.60" x2="251.74" y2="269.60" stroke="#444444" stroke-width="1.0"/>
<rect x="241.00" y="256.50" width="15.34" height="7.50" fill="#F8766D" stroke="#444444" stroke-width="0.8"/>
<line x1="241.00" y1="260.70" x2="256.34" y2="260.70" stroke="#333333" stroke-width="1.5" stroke-opacity="0.8"/>
<line x1="248.67" y1="274.30" x2="248.67" y2="275.80" stroke="#555555" stroke-width="0.6"/>
<line x1="269.12" y1="226.60" x2="269.12" y2="242.70" stroke="#3a3a3a" stroke-width="1.0"/>
<line x1="269.12" y1="254.20" x2="269.12" y2="260.50" stroke="#3a3a3a" stroke-width="1.0"/>
<line x1="266.05" y1="226.60" x2="272.19" y2="226.60" stroke="#444444" stroke-width="1.0"/>
<line x1="266.05" y1="260.50" x2="272.19" y2="260.50" stroke="#444444" stroke-width="1.0"/>
<rect x="261.45" y="242.70" width="15.34" height="11.50" fill="#B79F00" stroke="#444444" stroke-width="0.8"/>
<line x1="261.45" y1="247.60" x2="276.79" y2="247.60" stroke="#333333" stroke-width="1.5" stroke-opacity="0.8"/>
<line x1="269.12" y1="274.30" x2="269.12" y2="275.80" stroke="#555555" stroke-width="0.6"/>
<line x1="289.57" y1="233.80" x2="289.57" y2="248.60" stroke="#3a3a3a" stroke-width="1.0"/>
<line x1="289.57" y1="259.50" x2="289.57" y2="269.60" stroke="#3a3a3a" stroke-width="1.0"/>
<line x1="286.51" y1="233.80" x2="292.64" y2="233.80" stroke="#444444" stroke-width="1.0"/>
<line x1="286.51" y1="269.60" x2="292.64" y2="269.60" stroke="#444444" stroke-width="1.0"/>
<rect x="281.90" y="248.60" width="15.34" height="10.90" fill="#00BA38" stroke="#444444" stroke-width="0.8"/>
<line x1="281.90" y1="254.60" x2="297.24" y2="254.60" stroke="#333333" stroke-width="1.5" stroke-opacity="0.8"/>
<line x1="289.57" y1="274.30" x2="289.57" y2="275.80" stroke="#555555" stroke-width="0.6"/>
<line x1="310.03" y1="196.70" x2="310.03" y2="229.60" stroke="#3a3a3a" stroke-width="1.0"/>
<line x1="310.03" y1="251.80" x2="310.03" y2="270.50" stroke="#3a3a3a" stroke-width="1.0"/>
<line x1="306.96" y1="196.70" x2="313.09" y2="196.70" stroke="#444444" stroke-width="1.0"/>
<line x1="306.96" y1="270.50" x2="313.09" y2="270.50" stroke="#444444" stroke-width="1.0"/>
<rect x="302.36" y="229.60" width="15.34" height="22.20" fill="#00BFC4" stroke="#444444" stroke-width="0.8"/>
<line x1="302.36" y1="241.60" x2="317.70" y2="241.60" stroke="#333333" stroke-width="1.5" stroke-opacity="0.8"/>
<line x1="310.03" y1="274.30" x2="310.03" y2="275.80" stroke="#555555" stroke-width="0.6"/>
<line x1="330.48" y1="200.90" x2="330.48" y2="229.20" stroke="#3a3a3a" stroke-width="1.0"/>
<line x1="330.48" y1="249.70" x2="330.48" y2="264.70" stroke="#3a3a3a" stroke-width="1.0"/>
<line x1="327.41" y1="200.90" x2="333.55" y2="200.90" stroke="#444444" stroke-width="1.0"/>
<line x1="327.41" y1="264.70" x2="333.55" y2="264.70" stroke="#444444" stroke-width="1.0"/>
<rect x="322.81" y="229.20" width="15.34" height="20.50" fill="#619CFF" stroke="#444444" stroke-width="0.8"/>
<line x1="322.81" y1="240.60" x2="338.15" y2="240.60" stroke="#333333" stroke-width="1.5" stroke-opacity="0.8"/>
<line x1="330.48" y1="274.30" x2="330.48" y2="275.80" stroke="#555555" stroke-width="0.6"/>
<line x1="350.93" y1="236.60" x2="350.93" y2="249.50" stroke="#3a3a3a" stroke-width="1.0"/>
<line x1="350.93" y1="257.90" x2="350.93" y2="266.30" stroke="#3a3a3a" stroke-width="1.0"/>
<line x1="347.86" y1="236.60" x2="354.00" y2="236.60" stroke="#444444" stroke-width="1.0"/>
<line x1="347.86" y1="266.30" x2="354.00" y2="266.30" stroke="#444444" stroke-width="1.0"/>
<rect x="343.26" y="249.50" width="15.34" height="8.40" fill="#F564E3" stroke="#444444" stroke-width="0.8"/>
<line x1="343.26" y1="254.20" x2="358.60" y2="254.20" stroke="#333333" stroke-width="1.5" stroke-opacity="0.8"/>
<line x1="350.93" y1="274.30" x2="350.93" y2="275.80" stroke="#555555" stroke-width="0.6"/>
<line x1="236.00" y1="170.50" x2="364.00" y2="170.50" stroke="#999999" stroke-width="1"/>
<line x1="236.00" y1="274.50" x2="364.00" y2="274.50" stroke="#8a8a8a" stroke-width="1"/>
<line x1="236.50" y1="170.50" x2="236.50" y2="274.50" stroke="#a0a0a0" stroke-width="1"/>
<line x1="362.50" y1="171.00" x2="362.50" y2="274.00" stroke="#e0e0e0" stroke-width="1"/>
<line x1="363.50" y1="171.00" x2="363.50" y2="274.00" stroke="#b8b8b8" stroke-width="1"/>
<line x1="234.50" y1="250.30" x2="236.00" y2="250.30" stroke="#333333" stroke-width="0.6"/>
<text x="234.10" y="251.60" font-size="5.3" text-anchor="end" fill="#333333" font-weight="normal">2.5</text>
<line x1="234.50" y1="222.20" x2="236.00" y2="222.20" stroke="#333333" stroke-width="0.6"/>
<text x="234.10" y="223.50" font-size="5.3" text-anchor="end" fill="#333333" font-weight="normal">5.0</text>
<line x1="234.50" y1="195.40" x2="236.00" y2="195.40" stroke="#333333" stroke-width="0.6"/>
<text x="234.10" y="196.70" font-size="5.3" text-anchor="end" fill="#333333" font-weight="normal">7.5</text>
<rect x="394.30" y="139.50" width="126.80" height="30.60" fill="#DBDCDC"/>
<text x="456.40" y="145.90" font-size="9.0" text-anchor="middle" fill="#222" font-weight="normal">Scenario 3</text>
<text x="456.40" y="156.85" font-size="9.0" text-anchor="middle" fill="#222" font-weight="normal">Replicate 2</text>
<text x="456.40" y="167.80" font-size="9.0" text-anchor="middle" fill="#222" font-weight="normal">RMSE</text>
<rect x="394.30" y="170.10" width="126.80" height="104.20" fill="#FFFFFF"/>
<line x1="394.30" y1="254.90" x2="521.10" y2="254.90" stroke="#F2F2F2" stroke-width="0.5"/>
<line x1="394.30" y1="224.50" x2="521.10" y2="224.50" stroke="#F2F2F2" stroke-width="0.5"/>
<line x1="394.30" y1="194.10" x2="521.10" y2="194.10" stroke="#F2F2F2" stroke-width="0.5"/>
<line x1="394.30" y1="270.10" x2="521.10" y2="270.10" stroke="#EBEBEB" stroke-width="0.8"/>
<line x1="394.30" y1="239.70" x2="521.10" y2="239.70" stroke="#EBEBEB" stroke-width="0.8"/>
<line x1="394.30" y1="209.80" x2="521.10" y2="209.80" stroke="#EBEBEB" stroke-width="0.8"/>
<line x1="394.30" y1="179.50" x2="521.10" y2="179.50" stroke="#EBEBEB" stroke-width="0.8"/>
<line x1="406.97" y1="170.10" x2="406.97" y2="274.30" stroke="#EBEBEB" stroke-width="0.8"/>
<line x1="427.42" y1="170.10" x2="427.42" y2="274.30" stroke="#EBEBEB" stroke-width="0.8"/>
<line x1="447.87" y1="170.10" x2="447.87" y2="274.30" stroke="#EBEBEB" stroke-width="0.8"/>
<line x1="468.33" y1="170.10" x2="468.33" y2="274.30" stroke="#EBEBEB" stroke-width="0.8"/>
<line x1="488.78" y1="170.10" x2="488.78" y2="274.30" stroke="#EBEBEB" stroke-width="0.8"/>
<line x1="509.23" y1="170.10" x2="509.23" y2="274.30" stroke="#EBEBEB" stroke-width="0.8"/>
<line x1="406.97" y1="240.90" x2="406.97" y2="253.00" stroke="#3a3a3a" stroke-width="1.0"/>
<line x1="406.97" y1="263.00" x2="406.97" y2="270.50" stroke="#3a3a3a" stroke-width="1.0"/>
<line x1="403.90" y1="240.90" x2="410.04" y2="240.90" stroke="#444444" stroke-width="1.0"/>
<line x1="403.90" y1="270.50" x2="410.04" y2="270.50" stroke="#444444" stroke-width="1.0"/>
<rect x="399.30" y="253.00" width="15.34" height="10.00" fill="#F8766D" stroke="#444444" stroke-width="0.8"/>
<line x1="399.30" y1="258.80" x2="414.64" y2="258.80" stroke="#333333" stroke-width="1.5" stroke-opacity="0.8"/>
<line x1="406.97" y1="274.30" x2="406.97" y2="275.80" stroke="#555555" stroke-width="0.6"/>
<line x1="427.42" y1="200.90" x2="427.42" y2="230.80" stroke="#3a3a3a" stroke-width="1.0"/>
<line x1="427.42" y1="253.00" x2="427.42" y2="269.80" stroke="#3a3a3a" stroke-width="1.0"/>
<line x1="424.35" y1="200.90" x2="430.49" y2="200.90" stroke="#444444" stroke-width="1.0"/>
<line x1="424.35" y1="269.80" x2="430.49" y2="269.80" stroke="#444444" stroke-width="1.0"/>
<rect x="419.75" y="230.80" width="15.34" height="22.20" fill="#B79F00" stroke="#444444" stroke-width="0.8"/>
<line x1="419.75" y1="242.50" x2="435.09" y2="242.50" stroke="#333333" stroke-width="1.5" stroke-opacity="0.8"/>
<line x1="427.42" y1="274.30" x2="427.42" y2="275.80" stroke="#555555" stroke-width="0.6"/>
<line x1="447.87" y1="231.00" x2="447.87" y2="246.00" stroke="#3a3a3a" stroke-width="1.0"/>
<line x1="447.87" y1="258.10" x2="447.87" y2="268.60" stroke="#3a3a3a" stroke-width="1.0"/>
<line x1="444.81" y1="231.00" x2="450.94" y2="231.00" stroke="#444444" stroke-width="1.0"/>
<line x1="444.81" y1="268.60" x2="450.94" y2="268.60" stroke="#444444" stroke-width="1.0"/>
<rect x="440.20" y="246.00" width="15.34" height="12.10" fill="#00BA38" stroke="#444444" stroke-width="0.8"/>
<line x1="440.20" y1="252.50" x2="455.54" y2="252.50" stroke="#333333" stroke-width="1.5" stroke-opacity="0.8"/>
<line x1="447.87" y1="274.30" x2="447.87" y2="275.80" stroke="#555555" stroke-width="0.6"/>
<line x1="468.33" y1="203.20" x2="468.33" y2="232.00" stroke="#3a3a3a" stroke-width="1.0"/>
<line x1="468.33" y1="251.80" x2="468.33" y2="268.60" stroke="#3a3a3a" stroke-width="1.0"/>
<line x1="465.26" y1="203.20" x2="471.39" y2="203.20" stroke="#444444" stroke-width="1.0"/>
<line x1="465.26" y1="268.60" x2="471.39" y2="268.60" stroke="#444444" stroke-width="1.0"/>
<rect x="460.66" y="232.00" width="15.34" height="19.80" fill="#00BFC4" stroke="#444444" stroke-width="0.8"/>
<line x1="460.66" y1="243.20" x2="476.00" y2="243.20" stroke="#333333" stroke-width="1.5" stroke-opacity="0.8"/>
<line x1="468.33" y1="274.30" x2="468.33" y2="275.80" stroke="#555555" stroke-width="0.6"/>
<line x1="488.78" y1="175.00" x2="488.78" y2="216.80" stroke="#3a3a3a" stroke-width="1.0"/>
<line x1="488.78" y1="244.80" x2="488.78" y2="270.50" stroke="#3a3a3a" stroke-width="1.0"/>
<line x1="485.71" y1="175.00" x2="491.85" y2="175.00" stroke="#444444" stroke-width="1.0"/>
<line x1="485.71" y1="270.50" x2="491.85" y2="270.50" stroke="#444444" stroke-width="1.0"/>
<rect x="481.11" y="216.80" width="15.34" height="28.00" fill="#619CFF" stroke="#444444" stroke-width="0.8"/>
<line x1="481.11" y1="232.00" x2="496.45" y2="232.00" stroke="#333333" stroke-width="1.5" stroke-opacity="0.8"/>
<line x1="488.78" y1="274.30" x2="488.78" y2="275.80" stroke="#555555" stroke-width="0.6"/>
<line x1="509.23" y1="215.60" x2="509.23" y2="239.20" stroke="#3a3a3a" stroke-width="1.0"/>
<line x1="509.23" y1="255.60" x2="509.23" y2="266.30" stroke="#3a3a3a" stroke-width="1.0"/>
<line x1="506.16" y1="215.60" x2="512.30" y2="215.60" stroke="#444444" stroke-width="1.0"/>
<line x1="506.16" y1="266.30" x2="512.30" y2="266.30" stroke="#444444" stroke-width="1.0"/>
<rect x="501.56" y="239.20" width="15.34" height="16.40" fill="#F564E3" stroke="#444444" stroke-width="0.8"/>
<line x1="501.56" y1="247.60" x2="516.90" y2="247.60" stroke="#333333" stroke-width="1.5" stroke-opacity="0.8"/>
<line x1="509.23" y1="274.30" x2="509.23" y2="275.80" stroke="#555555" stroke-width="0.6"/>
<line x1="394.00" y1="170.50" x2="522.00" y2="170.50" stroke="#999999" stroke-width="1"/>
<line x1="394.00" y1="274.50" x2="522.00" y2="274.50" stroke="#8a8a8a" stroke-width="1"/>
<line x1="394.50" y1="170.50" x2="394.50" y2="274.50" stroke="#909090" stroke-width="1"/>
<line x1="521.00" y1="171.00" x2="521.00" y2="274.00" stroke="#b0b0b0" stroke-width="2"/>
<line x1="392.80" y1="270.10" x2="394.30" y2="270.10" stroke="#333333" stroke-width="0.6"/>
<text x="392.40" y="271.40" font-size="5.3" text-anchor="end" fill="#333333" font-weight="normal">0.0</text>
<line x1="392.80" y1="239.70" x2="394.30" y2="239.70" stroke="#333333" stroke-width="0.6"/>
<text x="392.40" y="241.00" font-size="5.3" text-anchor="end" fill="#333333" font-weight="normal">2.5</text>
<line x1="392.80" y1="209.80" x2="394.30" y2="209.80" stroke="#333333" stroke-width="0.6"/>
<text x="392.40" y="211.10" font-size="5.3" text-anchor="end" fill="#333333" font-weight="normal">5.0</text>
<line x1="392.80" y1="179.50" x2="394.30" y2="179.50" stroke="#333333" stroke-width="0.6"/>
<text x="392.40" y="180.80" font-size="5.3" text-anchor="end" fill="#333333" font-weight="normal">7.5</text>
<rect x="552.10" y="139.50" width="126.80" height="30.60" fill="#DBDCDC"/>
<text x="614.20" y="145.90" font-size="9.0" text-anchor="middle" fill="#222" font-weight="normal">Scenario 4</text>
<text x="614.20" y="156.85" font-size="9.0" text-anchor="middle" fill="#222" font-weight="normal">Replicate 2</text>
<text x="614.20" y="167.80" font-size="9.0" text-anchor="middle" fill="#222" font-weight="normal">RMSE</text>
<rect x="552.10" y="170.10" width="126.80" height="104.20" fill="#FFFFFF"/>
<line x1="552.10" y1="258.80" x2="678.90" y2="258.80" stroke="#F2F2F2" stroke-width="0.5"/>
<line x1="552.10" y1="236.20" x2="678.90" y2="236.20" stroke="#F2F2F2" stroke-width="0.5"/>
<line x1="552.10" y1="213.60" x2="678.90" y2="213.60" stroke="#F2F2F2" stroke-width="0.5"/>
<line x1="552.10" y1="191.00" x2="678.90" y2="191.00" stroke="#F2F2F2" stroke-width="0.5"/>
<line x1="552.10" y1="270.10" x2="678.90" y2="270.10" stroke="#EBEBEB" stroke-width="0.8"/>
<line x1="552.10" y1="247.50" x2="678.90" y2="247.50" stroke="#EBEBEB" stroke-width="0.8"/>
<line x1="552.10" y1="225.00" x2="678.90" y2="225.00" stroke="#EBEBEB" stroke-width="0.8"/>
<line x1="552.10" y1="202.40" x2="678.90" y2="202.40" stroke="#EBEBEB" stroke-width="0.8"/>
<line x1="552.10" y1="180.20" x2="678.90" y2="180.20" stroke="#EBEBEB" stroke-width="0.8"/>
<line x1="564.77" y1="170.10" x2="564.77" y2="274.30" stroke="#EBEBEB" stroke-width="0.8"/>
<line x1="585.22" y1="170.10" x2="585.22" y2="274.30" stroke="#EBEBEB" stroke-width="0.8"/>
<line x1="605.67" y1="170.10" x2="605.67" y2="274.30" stroke="#EBEBEB" stroke-width="0.8"/>
<line x1="626.13" y1="170.10" x2="626.13" y2="274.30" stroke="#EBEBEB" stroke-width="0.8"/>
<line x1="646.58" y1="170.10" x2="646.58" y2="274.30" stroke="#EBEBEB" stroke-width="0.8"/>
<line x1="667.03" y1="170.10" x2="667.03" y2="274.30" stroke="#EBEBEB" stroke-width="0.8"/>
<line x1="564.77" y1="233.80" x2="564.77" y2="247.60" stroke="#3a3a3a" stroke-width="1.0"/>
<line x1="564.77" y1="257.00" x2="564.77" y2="263.50" stroke="#3a3a3a" stroke-width="1.0"/>
<line x1="561.70" y1="233.80" x2="567.84" y2="233.80" stroke="#444444" stroke-width="1.0"/>
<line x1="561.70" y1="263.50" x2="567.84" y2="263.50" stroke="#444444" stroke-width="1.0"/>
<rect x="557.10" y="247.60" width="15.34" height="9.40" fill="#F8766D" stroke="#444444" stroke-width="0.8"/>
<line x1="557.10" y1="252.30" x2="572.44" y2="252.30" stroke="#333333" stroke-width="1.5" stroke-opacity="0.8"/>
<line x1="564.77" y1="274.30" x2="564.77" y2="275.80" stroke="#555555" stroke-width="0.6"/>
<line x1="585.22" y1="224.70" x2="585.22" y2="242.50" stroke="#3a3a3a" stroke-width="1.0"/>
<line x1="585.22" y1="254.60" x2="585.22" y2="269.60" stroke="#3a3a3a" stroke-width="1.0"/>
<line x1="582.15" y1="224.70" x2="588.29" y2="224.70" stroke="#444444" stroke-width="1.0"/>
<line x1="582.15" y1="269.60" x2="588.29" y2="269.60" stroke="#444444" stroke-width="1.0"/>
<rect x="577.55" y="242.50" width="15.34" height="12.10" fill="#B79F00" stroke="#444444" stroke-width="0.8"/>
<line x1="577.55" y1="248.30" x2="592.89" y2="248.30" stroke="#333333" stroke-width="1.5" stroke-opacity="0.8"/>
<line x1="585.22" y1="274.30" x2="585.22" y2="275.80" stroke="#555555" stroke-width="0.6"/>
<line x1="605.67" y1="214.90" x2="605.67" y2="239.00" stroke="#3a3a3a" stroke-width="1.0"/>
<line x1="605.67" y1="256.00" x2="605.67" y2="270.50" stroke="#3a3a3a" stroke-width="1.0"/>
<line x1="602.61" y1="214.90" x2="608.74" y2="214.90" stroke="#444444" stroke-width="1.0"/>
<line x1="602.61" y1="270.50" x2="608.74" y2="270.50" stroke="#444444" stroke-width="1.0"/>
<rect x="598.00" y="239.00" width="15.34" height="17.00" fill="#00BA38" stroke="#444444" stroke-width="0.8"/>
<line x1="598.00" y1="248.30" x2="613.34" y2="248.30" stroke="#333333" stroke-width="1.5" stroke-opacity="0.8"/>
<line x1="605.67" y1="274.30" x2="605.67" y2="275.80" stroke="#555555" stroke-width="0.6"/>
<line x1="626.13" y1="205.60" x2="626.13" y2="234.80" stroke="#3a3a3a" stroke-width="1.0"/>
<line x1="626.13" y1="254.60" x2="626.13" y2="270.50" stroke="#3a3a3a" stroke-width="1.0"/>
<line x1="623.06" y1="205.60" x2="629.19" y2="205.60" stroke="#444444" stroke-width="1.0"/>
<line x1="623.06" y1="270.50" x2="629.19" y2="270.50" stroke="#444444" stroke-width="1.0"/>
<rect x="618.46" y="234.80" width="15.34" height="19.80" fill="#00BFC4" stroke="#444444" stroke-width="0.8"/>
<line x1="618.46" y1="244.80" x2="633.80" y2="244.80" stroke="#333333" stroke-width="1.5" stroke-opacity="0.8"/>
<line x1="626.13" y1="274.30" x2="626.13" y2="275.80" stroke="#555555" stroke-width="0.6"/>
<line x1="646.58" y1="194.60" x2="646.58" y2="230.60" stroke="#3a3a3a" stroke-width="1.0"/>
<line x1="646.58" y1="254.60" x2="646.58" y2="270.50" stroke="#3a3a3a" stroke-width="1.0"/>
<line x1="643.51" y1="194.60" x2="649.65" y2="194.60" stroke="#444444" stroke-width="1.0"/>
<line x1="643.51" y1="270.50" x2="649.65" y2="270.50" stroke="#444444" stroke-width="1.0"/>
<rect x="638.91" y="230.60" width="15.34" height="24.00" fill="#619CFF" stroke="#444444" stroke-width="0.8"/>
<line x1="638.91" y1="242.50" x2="654.25" y2="242.50" stroke="#333333" stroke-width="1.5" stroke-opacity="0.8"/>
<line x1="646.58" y1="274.30" x2="646.58" y2="275.80" stroke="#555555" stroke-width="0.6"/>
<line x1="667.03" y1="218.00" x2="667.03" y2="239.70" stroke="#3a3a3a" stroke-width="1.0"/>
<line x1="667.03" y1="255.80" x2="667.03" y2="270.50" stroke="#3a3a3a" stroke-width="1.0"/>
<line x1="663.96" y1="218.00" x2="670.10" y2="218.00" stroke="#444444" stroke-width="1.0"/>
<line x1="663.96" y1="270.50" x2="670.10" y2="270.50" stroke="#444444" stroke-width="1.0"/>
<rect x="659.36" y="239.70" width="15.34" height="16.10" fill="#F564E3" stroke="#444444" stroke-width="0.8"/>
<line x1="659.36" y1="248.80" x2="674.70" y2="248.80" stroke="#333333" stroke-width="1.5" stroke-opacity="0.8"/>
<line x1="667.03" y1="274.30" x2="667.03" y2="275.80" stroke="#555555" stroke-width="0.6"/>
<line x1="552.00" y1="170.50" x2="679.00" y2="170.50" stroke="#999999" stroke-width="1"/>
<line x1="552.00" y1="274.50" x2="679.00" y2="274.50" stroke="#8a8a8a" stroke-width="1"/>
<line x1="552.50" y1="170.50" x2="552.50" y2="274.50" stroke="#a0a0a0" stroke-width="1"/>
<line x1="678.50" y1="171.00" x2="678.50" y2="274.00" stroke="#a0a0a0" stroke-width="1"/>
<line x1="550.60" y1="270.10" x2="552.10" y2="270.10" stroke="#333333" stroke-width="0.6"/>
<text x="550.20" y="271.40" font-size="5.3" text-anchor="end" fill="#333333" font-weight="normal">0.0</text>
<line x1="550.60" y1="247.50" x2="552.10" y2="247.50" stroke="#333333" stroke-width="0.6"/>
<text x="550.20" y="248.80" font-size="5.3" text-anchor="end" fill="#333333" font-weight="normal">2.0</text>
<line x1="550.60" y1="225.00" x2="552.10" y2="225.00" stroke="#333333" stroke-width="0.6"/>
<text x="550.20" y="226.30" font-size="5.3" text-anchor="end" fill="#333333" font-weight="normal">4.0</text>
<line x1="550.60" y1="202.40" x2="552.10" y2="202.40" stroke="#333333" stroke-width="0.6"/>
<text x="550.20" y="203.70" font-size="5.3" text-anchor="end" fill="#333333" font-weight="normal">6.0</text>
<line x1="550.60" y1="180.20" x2="552.10" y2="180.20" stroke="#333333" stroke-width="0.6"/>
<text x="550.20" y="181.50" font-size="5.3" text-anchor="end" fill="#333333" font-weight="normal">8.0</text>
<text x="0.50" y="98.00" font-size="6.7" text-anchor="start" fill="#1a1a1a" font-weight="normal">Variable</text>
<line x1="6.50" y1="104.10" x2="6.50" y2="114.10" stroke="#333333" stroke-width="0.6"/>
<rect x="1.50" y="105.90" width="10.00" height="6.40" fill="#F8766D" stroke="#333333" stroke-width="0.6"/>
<line x1="1.50" y1="109.10" x2="11.50" y2="109.10" stroke="#333333" stroke-width="0.9"/>
<text x="15.10" y="111.70" font-size="7.4" text-anchor="start" fill="#1a1a1a" font-weight="normal">NODE</text>
<line x1="6.50" y1="119.90" x2="6.50" y2="129.90" stroke="#333333" stroke-width="0.6"/>
<rect x="1.50" y="121.70" width="10.00" height="6.40" fill="#B79F00" stroke="#333333" stroke-width="0.6"/>
<line x1="1.50" y1="124.90" x2="11.50" y2="124.90" stroke="#333333" stroke-width="0.9"/>
<text x="15.10" y="127.50" font-size="7.4" text-anchor="start" fill="#1a1a1a" font-weight="normal">SpaTalk</text>
<line x1="6.50" y1="135.70" x2="6.50" y2="145.70" stroke="#333333" stroke-width="0.6"/>
<rect x="1.50" y="137.50" width="10.00" height="6.40" fill="#00BA38" stroke="#333333" stroke-width="0.6"/>
<line x1="1.50" y1="140.70" x2="11.50" y2="140.70" stroke="#333333" stroke-width="0.9"/>
<text x="15.10" y="143.30" font-size="7.4" text-anchor="start" fill="#1a1a1a" font-weight="normal">RCTD</text>
<line x1="6.50" y1="151.50" x2="6.50" y2="161.50" stroke="#333333" stroke-width="0.6"/>
<rect x="1.50" y="153.30" width="10.00" height="6.40" fill="#00BFC4" stroke="#333333" stroke-width="0.6"/>
<line x1="1.50" y1="156.50" x2="11.50" y2="156.50" stroke="#333333" stroke-width="0.9"/>
<text x="15.10" y="159.10" font-size="7.4" text-anchor="start" fill="#1a1a1a" font-weight="normal">Seurat</text>
<line x1="6.50" y1="167.30" x2="6.50" y2="177.30" stroke="#333333" stroke-width="0.6"/>
<rect x="1.50" y="169.10" width="10.00" height="6.40" fill="#619CFF" stroke="#333333" stroke-width="0.6"/>
<line x1="1.50" y1="172.30" x2="11.50" y2="172.30" stroke="#333333" stroke-width="0.9"/>
<text x="15.10" y="174.90" font-size="7.4" text-anchor="start" fill="#1a1a1a" font-weight="normal">deconvSeq</text>
<line x1="6.50" y1="183.10" x2="6.50" y2="193.10" stroke="#333333" stroke-width="0.6"/>
<rect x="1.50" y="184.90" width="10.00" height="6.40" fill="#F564E3" stroke="#333333" stroke-width="0.6"/>
<line x1="1.50" y1="188.10" x2="11.50" y2="188.10" stroke="#333333" stroke-width="0.9"/>
<text x="15.10" y="190.70" font-size="7.4" text-anchor="start" fill="#1a1a1a" font-weight="normal">SPOTlight</text>
<text x="66.90" y="12.00" font-size="10" text-anchor="middle" fill="#1a1a1a" font-weight="bold">a</text>
<rect x="78.00" y="277.70" width="126.80" height="30.10" fill="#DBDCDC"/>
<text x="140.10" y="284.60" font-size="9.0" text-anchor="middle" fill="#222" font-weight="normal">Scenario 1</text>
<text x="140.10" y="295.30" font-size="9.0" text-anchor="middle" fill="#222" font-weight="normal">Replicate 1</text>
<text x="140.10" y="306.00" font-size="9.0" text-anchor="middle" fill="#222" font-weight="normal">Rank performances</text>
<rect x="78.00" y="307.80" width="126.80" height="107.50" fill="#EBEBEB"/>
<line x1="78.00" y1="410.50" x2="204.80" y2="410.50" stroke="#FFFFFF" stroke-width="0.9"/>
<line x1="78.00" y1="398.34" x2="204.80" y2="398.34" stroke="#FFFFFF" stroke-width="0.45"/>
<line x1="78.00" y1="386.18" x2="204.80" y2="386.18" stroke="#FFFFFF" stroke-width="0.9"/>
<line x1="78.00" y1="374.01" x2="204.80" y2="374.01" stroke="#FFFFFF" stroke-width="0.45"/>
<line x1="78.00" y1="361.85" x2="204.80" y2="361.85" stroke="#FFFFFF" stroke-width="0.9"/>
<line x1="78.00" y1="349.69" x2="204.80" y2="349.69" stroke="#FFFFFF" stroke-width="0.45"/>
<line x1="78.00" y1="337.52" x2="204.80" y2="337.52" stroke="#FFFFFF" stroke-width="0.9"/>
<line x1="78.00" y1="325.36" x2="204.80" y2="325.36" stroke="#FFFFFF" stroke-width="0.45"/>
<line x1="78.00" y1="313.20" x2="204.80" y2="313.20" stroke="#FFFFFF" stroke-width="0.9"/>
<line x1="90.67" y1="307.80" x2="90.67" y2="415.30" stroke="#FFFFFF" stroke-width="0.9"/>
<line x1="111.12" y1="307.80" x2="111.12" y2="415.30" stroke="#FFFFFF" stroke-width="0.9"/>
<line x1="131.57" y1="307.80" x2="131.57" y2="415.30" stroke="#FFFFFF" stroke-width="0.9"/>
<line x1="152.03" y1="307.80" x2="152.03" y2="415.30" stroke="#FFFFFF" stroke-width="0.9"/>
<line x1="172.48" y1="307.80" x2="172.48" y2="415.30" stroke="#FFFFFF" stroke-width="0.9"/>
<line x1="192.93" y1="307.80" x2="192.93" y2="415.30" stroke="#FFFFFF" stroke-width="0.9"/>
<rect x="81.32" y="313.20" width="18.71" height="89.42" fill="#F8766D"/>
<rect x="81.32" y="402.62" width="18.71" height="7.88" fill="#B79F00"/>
<text x="81.50" y="421.70" font-size="6.6" fill="#333333" textLength="15.8" lengthAdjust="spacingAndGlyphs">NODE</text>
<rect x="101.77" y="313.20" width="18.71" height="1.17" fill="#F8766D"/>
<rect x="101.77" y="314.37" width="18.71" height="63.34" fill="#B79F00"/>
<rect x="101.77" y="377.71" width="18.71" height="23.35" fill="#00BA38"/>
<rect x="101.77" y="401.06" width="18.71" height="9.44" fill="#00BFC4"/>
<text x="101.10" y="421.70" font-size="6.6" fill="#333333" textLength="15.8" lengthAdjust="spacingAndGlyphs">RCTD</text>
<rect x="122.22" y="313.20" width="18.71" height="0.58" fill="#F8766D"/>
<rect x="122.22" y="313.78" width="18.71" height="2.53" fill="#B79F00"/>
<rect x="122.22" y="316.31" width="18.71" height="6.91" fill="#00BA38"/>
<rect x="122.22" y="323.22" width="18.71" height="18.68" fill="#00BFC4"/>
<rect x="122.22" y="341.90" width="18.71" height="25.01" fill="#619CFF"/>
<rect x="122.22" y="366.91" width="18.71" height="43.59" fill="#F564E3"/>
<text x="118.00" y="421.70" font-size="6.6" fill="#333333" textLength="27.4" lengthAdjust="spacingAndGlyphs">deconvSeq</text>
<rect x="142.67" y="313.20" width="18.71" height="2.72" fill="#F8766D"/>
<rect x="142.67" y="315.92" width="18.71" height="5.16" fill="#B79F00"/>
<rect x="142.67" y="321.08" width="18.71" height="12.36" fill="#00BA38"/>
<rect x="142.67" y="333.44" width="18.71" height="11.38" fill="#00BFC4"/>
<rect x="142.67" y="344.82" width="18.71" height="30.45" fill="#619CFF"/>
<rect x="142.67" y="375.28" width="18.71" height="35.22" fill="#F564E3"/>
<text x="146.20" y="421.70" font-size="6.6" fill="#333333" textLength="15.5" lengthAdjust="spacingAndGlyphs">Seurat</text>
<rect x="163.12" y="313.20" width="18.71" height="3.70" fill="#B79F00"/>
<rect x="163.12" y="316.90" width="18.71" height="9.24" fill="#00BA38"/>
<rect x="163.12" y="326.14" width="18.71" height="37.95" fill="#00BFC4"/>
<rect x="163.12" y="364.09" width="18.71" height="30.26" fill="#619CFF"/>
<rect x="163.12" y="394.35" width="18.71" height="16.15" fill="#F564E3"/>
<text x="163.50" y="421.70" font-size="6.6" fill="#333333" textLength="19.4" lengthAdjust="spacingAndGlyphs">SpaTalk</text>
<rect x="183.58" y="313.20" width="18.71" height="2.72" fill="#F8766D"/>
<rect x="183.58" y="315.92" width="18.71" height="15.18" fill="#B79F00"/>
<rect x="183.58" y="331.10" width="18.71" height="46.02" fill="#00BA38"/>
<rect x="183.58" y="377.13" width="18.71" height="20.82" fill="#00BFC4"/>
<rect x="183.58" y="397.95" width="18.71" height="11.19" fill="#619CFF"/>
<rect x="183.58" y="409.14" width="18.71" height="1.36" fill="#F564E3"/>
<text x="184.90" y="421.70" font-size="6.6" fill="#333333" textLength="23.5" lengthAdjust="spacingAndGlyphs">SPOTlight</text>
<text x="76.70" y="412.40" font-size="5.5" text-anchor="end" fill="#333333" font-weight="normal">0.00</text>
<text x="76.70" y="388.07" font-size="5.5" text-anchor="end" fill="#333333" font-weight="normal">0.25</text>
<text x="76.70" y="363.75" font-size="5.5" text-anchor="end" fill="#333333" font-weight="normal">0.50</text>
<text x="76.70" y="339.42" font-size="5.5" text-anchor="end" fill="#333333" font-weight="normal">0.75</text>
<text x="76.70" y="315.10" font-size="5.5" text-anchor="end" fill="#333333" font-weight="normal">1.00</text>
<rect x="236.00" y="277.70" width="126.80" height="30.10" fill="#DBDCDC"/>
<text x="298.10" y="284.60" font-size="9.0" text-anchor="middle" fill="#222" font-weight="normal">Scenario 2</text>
<text x="298.10" y="295.30" font-size="9.0" text-anchor="middle" fill="#222" font-weight="normal">Replicate 1</text>
<text x="298.10" y="306.00" font-size="9.0" text-anchor="middle" fill="#222" font-weight="normal">Rank performances</text>
<rect x="236.00" y="307.80" width="126.80" height="107.50" fill="#EBEBEB"/>
<line x1="236.00" y1="410.50" x2="362.80" y2="410.50" stroke="#FFFFFF" stroke-width="0.9"/>
<line x1="236.00" y1="398.34" x2="362.80" y2="398.34" stroke="#FFFFFF" stroke-width="0.45"/>
<line x1="236.00" y1="386.18" x2="362.80" y2="386.18" stroke="#FFFFFF" stroke-width="0.9"/>
<line x1="236.00" y1="374.01" x2="362.80" y2="374.01" stroke="#FFFFFF" stroke-width="0.45"/>
<line x1="236.00" y1="361.85" x2="362.80" y2="361.85" stroke="#FFFFFF" stroke-width="0.9"/>
<line x1="236.00" y1="349.69" x2="362.80" y2="349.69" stroke="#FFFFFF" stroke-width="0.45"/>
<line x1="236.00" y1="337.52" x2="362.80" y2="337.52" stroke="#FFFFFF" stroke-width="0.9"/>
<line x1="236.00" y1="325.36" x2="362.80" y2="325.36" stroke="#FFFFFF" stroke-width="0.45"/>
<line x1="236.00" y1="313.20" x2="362.80" y2="313.20" stroke="#FFFFFF" stroke-width="0.9"/>
<line x1="248.67" y1="307.80" x2="248.67" y2="415.30" stroke="#FFFFFF" stroke-width="0.9"/>
<line x1="269.12" y1="307.80" x2="269.12" y2="415.30" stroke="#FFFFFF" stroke-width="0.9"/>
<line x1="289.57" y1="307.80" x2="289.57" y2="415.30" stroke="#FFFFFF" stroke-width="0.9"/>
<line x1="310.03" y1="307.80" x2="310.03" y2="415.30" stroke="#FFFFFF" stroke-width="0.9"/>
<line x1="330.48" y1="307.80" x2="330.48" y2="415.30" stroke="#FFFFFF" stroke-width="0.9"/>
<line x1="350.93" y1="307.80" x2="350.93" y2="415.30" stroke="#FFFFFF" stroke-width="0.9"/>
<rect x="239.32" y="313.20" width="18.71" height="77.65" fill="#F8766D"/>
<rect x="239.32" y="390.85" width="18.71" height="13.72" fill="#B79F00"/>
<rect x="239.32" y="404.56" width="18.71" height="4.57" fill="#00BA38"/>
<rect x="239.32" y="409.14" width="18.71" height="1.36" fill="#00BFC4"/>
<text x="239.50" y="421.70" font-size="6.6" fill="#333333" textLength="15.8" lengthAdjust="spacingAndGlyphs">NODE</text>
<rect x="259.77" y="313.20" width="18.71" height="7.88" fill="#F8766D"/>
<rect x="259.77" y="321.08" width="18.71" height="43.79" fill="#B79F00"/>
<rect x="259.77" y="364.87" width="18.71" height="26.76" fill="#00BA38"/>
<rect x="259.77" y="391.62" width="18.71" height="17.12" fill="#00BFC4"/>
<rect x="259.77" y="408.75" width="18.71" height="0.97" fill="#619CFF"/>
<rect x="259.77" y="409.72" width="18.71" height="0.78" fill="#F564E3"/>
<text x="259.10" y="421.70" font-size="6.6" fill="#333333" textLength="15.8" lengthAdjust="spacingAndGlyphs">RCTD</text>
<rect x="280.22" y="313.20" width="18.71" height="0.58" fill="#F8766D"/>
<rect x="280.22" y="313.78" width="18.71" height="1.17" fill="#B79F00"/>
<rect x="280.22" y="314.95" width="18.71" height="6.13" fill="#00BA38"/>
<rect x="280.22" y="321.08" width="18.71" height="13.52" fill="#00BFC4"/>
<rect x="280.22" y="334.61" width="18.71" height="35.22" fill="#619CFF"/>
<rect x="280.22" y="369.83" width="18.71" height="40.67" fill="#F564E3"/>
<text x="276.00" y="421.70" font-size="6.6" fill="#333333" textLength="27.4" lengthAdjust="spacingAndGlyphs">deconvSeq</text>
<rect x="300.67" y="313.20" width="18.71" height="3.50" fill="#F8766D"/>
<rect x="300.67" y="316.70" width="18.71" height="5.35" fill="#B79F00"/>
<rect x="300.67" y="322.05" width="18.71" height="3.89" fill="#00BA38"/>
<rect x="300.67" y="325.95" width="18.71" height="7.69" fill="#00BFC4"/>
<rect x="300.67" y="333.63" width="18.71" height="31.04" fill="#619CFF"/>
<rect x="300.67" y="364.67" width="18.71" height="45.83" fill="#F564E3"/>
<text x="304.20" y="421.70" font-size="6.6" fill="#333333" textLength="15.5" lengthAdjust="spacingAndGlyphs">Seurat</text>
<rect x="321.12" y="313.20" width="18.71" height="1.56" fill="#B79F00"/>
<rect x="321.12" y="314.76" width="18.71" height="18.29" fill="#00BA38"/>
<rect x="321.12" y="333.05" width="18.71" height="43.88" fill="#00BFC4"/>
<rect x="321.12" y="376.93" width="18.71" height="24.52" fill="#619CFF"/>
<rect x="321.12" y="401.45" width="18.71" height="9.05" fill="#F564E3"/>
<text x="321.50" y="421.70" font-size="6.6" fill="#333333" textLength="19.4" lengthAdjust="spacingAndGlyphs">SpaTalk</text>
<rect x="341.58" y="313.20" width="18.71" height="7.10" fill="#F8766D"/>
<rect x="341.58" y="320.30" width="18.71" height="31.82" fill="#B79F00"/>
<rect x="341.58" y="352.12" width="18.71" height="38.73" fill="#00BA38"/>
<rect x="341.58" y="390.85" width="18.71" height="14.30" fill="#00BFC4"/>
<rect x="341.58" y="405.15" width="18.71" height="4.57" fill="#619CFF"/>
<rect x="341.58" y="409.72" width="18.71" height="0.78" fill="#F564E3"/>
<text x="342.90" y="421.70" font-size="6.6" fill="#333333" textLength="23.5" lengthAdjust="spacingAndGlyphs">SPOTlight</text>
<text x="234.70" y="412.40" font-size="5.5" text-anchor="end" fill="#333333" font-weight="normal">0.00</text>
<text x="234.70" y="388.07" font-size="5.5" text-anchor="end" fill="#333333" font-weight="normal">0.25</text>
<text x="234.70" y="363.75" font-size="5.5" text-anchor="end" fill="#333333" font-weight="normal">0.50</text>
<text x="234.70" y="339.42" font-size="5.5" text-anchor="end" fill="#333333" font-weight="normal">0.75</text>
<text x="234.70" y="315.10" font-size="5.5" text-anchor="end" fill="#333333" font-weight="normal">1.00</text>
<rect x="394.30" y="277.70" width="126.80" height="30.10" fill="#DBDCDC"/>
<text x="456.40" y="284.60" font-size="9.0" text-anchor="middle" fill="#222" font-weight="normal">Scenario 3</text>
<text x="456.40" y="295.30" font-size="9.0" text-anchor="middle" fill="#222" font-weight="normal">Replicate 1</text>
<text x="456.40" y="306.00" font-size="9.0" text-anchor="middle" fill="#222" font-weight="normal">Rank performances</text>
<rect x="394.30" y="307.80" width="126.80" height="107.50" fill="#EBEBEB"/>
<line x1="394.30" y1="410.50" x2="521.10" y2="410.50" stroke="#FFFFFF" stroke-width="0.9"/>
<line x1="394.30" y1="398.34" x2="521.10" y2="398.34" stroke="#FFFFFF" stroke-width="0.45"/>
<line x1="394.30" y1="386.18" x2="521.10" y2="386.18" stroke="#FFFFFF" stroke-width="0.9"/>
<line x1="394.30" y1="374.01" x2="521.10" y2="374.01" stroke="#FFFFFF" stroke-width="0.45"/>
<line x1="394.30" y1="361.85" x2="521.10" y2="361.85" stroke="#FFFFFF" stroke-width="0.9"/>
<line x1="394.30" y1="349.69" x2="521.10" y2="349.69" stroke="#FFFFFF" stroke-width="0.45"/>
<line x1="394.30" y1="337.52" x2="521.10" y2="337.52" stroke="#FFFFFF" stroke-width="0.9"/>
<line x1="394.30" y1="325.36" x2="521.10" y2="325.36" stroke="#FFFFFF" stroke-width="0.45"/>
<line x1="394.30" y1="313.20" x2="521.10" y2="313.20" stroke="#FFFFFF" stroke-width="0.9"/>
<line x1="406.97" y1="307.80" x2="406.97" y2="415.30" stroke="#FFFFFF" stroke-width="0.9"/>
<line x1="427.42" y1="307.80" x2="427.42" y2="415.30" stroke="#FFFFFF" stroke-width="0.9"/>
<line x1="447.87" y1="307.80" x2="447.87" y2="415.30" stroke="#FFFFFF" stroke-width="0.9"/>
<line x1="468.33" y1="307.80" x2="468.33" y2="415.30" stroke="#FFFFFF" stroke-width="0.9"/>
<line x1="488.78" y1="307.80" x2="488.78" y2="415.30" stroke="#FFFFFF" stroke-width="0.9"/>
<line x1="509.23" y1="307.80" x2="509.23" y2="415.30" stroke="#FFFFFF" stroke-width="0.9"/>
<rect x="397.62" y="313.20" width="18.71" height="92.63" fill="#F8766D"/>
<rect x="397.62" y="405.83" width="18.71" height="3.89" fill="#B79F00"/>
<rect x="397.62" y="409.72" width="18.71" height="0.78" fill="#00BA38"/>
<text x="397.80" y="421.70" font-size="6.6" fill="#333333" textLength="15.8" lengthAdjust="spacingAndGlyphs">NODE</text>
<rect x="418.07" y="313.20" width="18.71" height="0.97" fill="#F8766D"/>
<rect x="418.07" y="314.17" width="18.71" height="62.56" fill="#B79F00"/>
<rect x="418.07" y="376.74" width="18.71" height="23.16" fill="#00BA38"/>
<rect x="418.07" y="399.89" width="18.71" height="7.88" fill="#00BFC4"/>
<rect x="418.07" y="407.78" width="18.71" height="2.72" fill="#619CFF"/>
<text x="417.40" y="421.70" font-size="6.6" fill="#333333" textLength="15.8" lengthAdjust="spacingAndGlyphs">RCTD</text>
<rect x="438.52" y="313.20" width="18.71" height="0.97" fill="#F8766D"/>
<rect x="438.52" y="314.17" width="18.71" height="1.17" fill="#B79F00"/>
<rect x="438.52" y="315.34" width="18.71" height="2.72" fill="#00BA38"/>
<rect x="438.52" y="318.06" width="18.71" height="8.08" fill="#00BFC4"/>
<rect x="438.52" y="326.14" width="18.71" height="20.63" fill="#619CFF"/>
<rect x="438.52" y="346.77" width="18.71" height="63.73" fill="#F564E3"/>
<text x="434.30" y="421.70" font-size="6.6" fill="#333333" textLength="27.4" lengthAdjust="spacingAndGlyphs">deconvSeq</text>
<rect x="458.97" y="313.20" width="18.71" height="1.56" fill="#F8766D"/>
<rect x="458.97" y="314.76" width="18.71" height="4.57" fill="#B79F00"/>
<rect x="458.97" y="319.33" width="18.71" height="13.52" fill="#00BA38"/>
<rect x="458.97" y="332.85" width="18.71" height="12.36" fill="#00BFC4"/>
<rect x="458.97" y="345.21" width="18.71" height="46.80" fill="#619CFF"/>
<rect x="458.97" y="392.01" width="18.71" height="18.49" fill="#F564E3"/>
<text x="462.50" y="421.70" font-size="6.6" fill="#333333" textLength="15.5" lengthAdjust="spacingAndGlyphs">Seurat</text>
<rect x="479.42" y="313.20" width="18.71" height="3.11" fill="#B79F00"/>
<rect x="479.42" y="316.31" width="18.71" height="15.76" fill="#00BA38"/>
<rect x="479.42" y="332.08" width="18.71" height="45.83" fill="#00BFC4"/>
<rect x="479.42" y="377.90" width="18.71" height="21.60" fill="#619CFF"/>
<rect x="479.42" y="399.51" width="18.71" height="10.99" fill="#F564E3"/>
<text x="479.80" y="421.70" font-size="6.6" fill="#333333" textLength="19.4" lengthAdjust="spacingAndGlyphs">SpaTalk</text>
<rect x="499.88" y="313.20" width="18.71" height="0.97" fill="#F8766D"/>
<rect x="499.88" y="314.17" width="18.71" height="21.80" fill="#B79F00"/>
<rect x="499.88" y="335.97" width="18.71" height="41.94" fill="#00BA38"/>
<rect x="499.88" y="377.90" width="18.71" height="23.94" fill="#00BFC4"/>
<rect x="499.88" y="401.84" width="18.71" height="5.94" fill="#619CFF"/>
<rect x="499.88" y="407.78" width="18.71" height="2.72" fill="#F564E3"/>
<text x="501.20" y="421.70" font-size="6.6" fill="#333333" textLength="23.5" lengthAdjust="spacingAndGlyphs">SPOTlight</text>
<text x="393.00" y="412.40" font-size="5.5" text-anchor="end" fill="#333333" font-weight="normal">0.00</text>
<text x="393.00" y="388.07" font-size="5.5" text-anchor="end" fill="#333333" font-weight="normal">0.25</text>
<text x="393.00" y="363.75" font-size="5.5" text-anchor="end" fill="#333333" font-weight="normal">0.50</text>
<text x="393.00" y="339.42" font-size="5.5" text-anchor="end" fill="#333333" font-weight="normal">0.75</text>
<text x="393.00" y="315.10" font-size="5.5" text-anchor="end" fill="#333333" font-weight="normal">1.00</text>
<rect x="552.10" y="277.70" width="126.80" height="30.10" fill="#DBDCDC"/>
<text x="614.20" y="284.60" font-size="9.0" text-anchor="middle" fill="#222" font-weight="normal">Scenario 4</text>
<text x="614.20" y="295.30" font-size="9.0" text-anchor="middle" fill="#222" font-weight="normal">Replicate 1</text>
<text x="614.20" y="306.00" font-size="9.0" text-anchor="middle" fill="#222" font-weight="normal">Rank performances</text>
<rect x="552.10" y="307.80" width="126.80" height="107.50" fill="#EBEBEB"/>
<line x1="552.10" y1="410.50" x2="678.90" y2="410.50" stroke="#FFFFFF" stroke-width="0.9"/>
<line x1="552.10" y1="398.34" x2="678.90" y2="398.34" stroke="#FFFFFF" stroke-width="0.45"/>
<line x1="552.10" y1="386.18" x2="678.90" y2="386.18" stroke="#FFFFFF" stroke-width="0.9"/>
<line x1="552.10" y1="374.01" x2="678.90" y2="374.01" stroke="#FFFFFF" stroke-width="0.45"/>
<line x1="552.10" y1="361.85" x2="678.90" y2="361.85" stroke="#FFFFFF" stroke-width="0.9"/>
<line x1="552.10" y1="349.69" x2="678.90" y2="349.69" stroke="#FFFFFF" stroke-width="0.45"/>
<line x1="552.10" y1="337.52" x2="678.90" y2="337.52" stroke="#FFFFFF" stroke-width="0.9"/>
<line x1="552.10" y1="325.36" x2="678.90" y2="325.36" stroke="#FFFFFF" stroke-width="0.45"/>
<line x1="552.10" y1="313.20" x2="678.90" y2="313.20" stroke="#FFFFFF" stroke-width="0.9"/>
<line x1="564.77" y1="307.80" x2="564.77" y2="415.30" stroke="#FFFFFF" stroke-width="0.9"/>
<line x1="585.22" y1="307.80" x2="585.22" y2="415.30" stroke="#FFFFFF" stroke-width="0.9"/>
<line x1="605.67" y1="307.80" x2="605.67" y2="415.30" stroke="#FFFFFF" stroke-width="0.9"/>
<line x1="626.13" y1="307.80" x2="626.13" y2="415.30" stroke="#FFFFFF" stroke-width="0.9"/>
<line x1="646.58" y1="307.80" x2="646.58" y2="415.30" stroke="#FFFFFF" stroke-width="0.9"/>
<line x1="667.03" y1="307.80" x2="667.03" y2="415.30" stroke="#FFFFFF" stroke-width="0.9"/>
<rect x="555.42" y="313.20" width="18.71" height="39.70" fill="#F8766D"/>
<rect x="555.42" y="352.90" width="18.71" height="35.13" fill="#B79F00"/>
<rect x="555.42" y="388.02" width="18.71" height="13.62" fill="#00BA38"/>
<rect x="555.42" y="401.65" width="18.71" height="5.55" fill="#00BFC4"/>
<rect x="555.42" y="407.19" width="18.71" height="1.95" fill="#619CFF"/>
<rect x="555.42" y="409.14" width="18.71" height="1.36" fill="#F564E3"/>
<text x="555.60" y="421.70" font-size="6.6" fill="#333333" textLength="15.8" lengthAdjust="spacingAndGlyphs">NODE</text>
<rect x="575.87" y="313.20" width="18.71" height="29.58" fill="#F8766D"/>
<rect x="575.87" y="342.78" width="18.71" height="27.24" fill="#B79F00"/>
<rect x="575.87" y="370.02" width="18.71" height="23.16" fill="#00BA38"/>
<rect x="575.87" y="393.18" width="18.71" height="14.01" fill="#00BFC4"/>
<rect x="575.87" y="407.19" width="18.71" height="3.31" fill="#619CFF"/>
<text x="575.20" y="421.70" font-size="6.6" fill="#333333" textLength="15.8" lengthAdjust="spacingAndGlyphs">RCTD</text>
<rect x="596.32" y="313.20" width="18.71" height="0.58" fill="#F8766D"/>
<rect x="596.32" y="313.78" width="18.71" height="0.97" fill="#B79F00"/>
<rect x="596.32" y="314.76" width="18.71" height="3.02" fill="#00BA38"/>
<rect x="596.32" y="317.77" width="18.71" height="6.32" fill="#00BFC4"/>
<rect x="596.32" y="324.10" width="18.71" height="19.85" fill="#619CFF"/>
<rect x="596.32" y="343.95" width="18.71" height="66.55" fill="#F564E3"/>
<text x="592.10" y="421.70" font-size="6.6" fill="#333333" textLength="27.4" lengthAdjust="spacingAndGlyphs">deconvSeq</text>
<rect x="616.77" y="313.20" width="18.71" height="5.94" fill="#F8766D"/>
<rect x="616.77" y="319.14" width="18.71" height="4.77" fill="#B79F00"/>
<rect x="616.77" y="323.90" width="18.71" height="6.42" fill="#00BA38"/>
<rect x="616.77" y="330.32" width="18.71" height="11.68" fill="#00BFC4"/>
<rect x="616.77" y="342.00" width="18.71" height="46.02" fill="#619CFF"/>
<rect x="616.77" y="388.02" width="18.71" height="22.48" fill="#F564E3"/>
<text x="620.30" y="421.70" font-size="6.6" fill="#333333" textLength="15.5" lengthAdjust="spacingAndGlyphs">Seurat</text>
<rect x="637.22" y="313.20" width="18.71" height="1.56" fill="#F8766D"/>
<rect x="637.22" y="314.76" width="18.71" height="6.52" fill="#B79F00"/>
<rect x="637.22" y="321.28" width="18.71" height="13.82" fill="#00BA38"/>
<rect x="637.22" y="335.09" width="18.71" height="50.89" fill="#00BFC4"/>
<rect x="637.22" y="385.98" width="18.71" height="21.21" fill="#619CFF"/>
<rect x="637.22" y="407.19" width="18.71" height="3.31" fill="#F564E3"/>
<text x="637.60" y="421.70" font-size="6.6" fill="#333333" textLength="19.4" lengthAdjust="spacingAndGlyphs">SpaTalk</text>
<rect x="657.68" y="313.20" width="18.71" height="18.78" fill="#F8766D"/>
<rect x="657.68" y="331.98" width="18.71" height="23.25" fill="#B79F00"/>
<rect x="657.68" y="355.23" width="18.71" height="37.95" fill="#00BA38"/>
<rect x="657.68" y="393.18" width="18.71" height="9.83" fill="#00BFC4"/>
<rect x="657.68" y="403.01" width="18.71" height="5.16" fill="#619CFF"/>
<rect x="657.68" y="408.16" width="18.71" height="2.34" fill="#F564E3"/>
<text x="659.00" y="421.70" font-size="6.6" fill="#333333" textLength="23.5" lengthAdjust="spacingAndGlyphs">SPOTlight</text>
<text x="550.80" y="412.40" font-size="5.5" text-anchor="end" fill="#333333" font-weight="normal">0.00</text>
<text x="550.80" y="388.07" font-size="5.5" text-anchor="end" fill="#333333" font-weight="normal">0.25</text>
<text x="550.80" y="363.75" font-size="5.5" text-anchor="end" fill="#333333" font-weight="normal">0.50</text>
<text x="550.80" y="339.42" font-size="5.5" text-anchor="end" fill="#333333" font-weight="normal">0.75</text>
<text x="550.80" y="315.10" font-size="5.5" text-anchor="end" fill="#333333" font-weight="normal">1.00</text>
<rect x="78.00" y="424.00" width="126.80" height="30.40" fill="#DBDCDC"/>
<text x="140.10" y="430.90" font-size="9.0" text-anchor="middle" fill="#222" font-weight="normal">Scenario 1</text>
<text x="140.10" y="441.60" font-size="9.0" text-anchor="middle" fill="#222" font-weight="normal">Replicate 2</text>
<text x="140.10" y="452.30" font-size="9.0" text-anchor="middle" fill="#222" font-weight="normal">Rank performances</text>
<rect x="78.00" y="454.40" width="126.80" height="108.20" fill="#EBEBEB"/>
<line x1="78.00" y1="557.60" x2="204.80" y2="557.60" stroke="#FFFFFF" stroke-width="0.9"/>
<line x1="78.00" y1="545.40" x2="204.80" y2="545.40" stroke="#FFFFFF" stroke-width="0.45"/>
<line x1="78.00" y1="533.20" x2="204.80" y2="533.20" stroke="#FFFFFF" stroke-width="0.9"/>
<line x1="78.00" y1="521.00" x2="204.80" y2="521.00" stroke="#FFFFFF" stroke-width="0.45"/>
<line x1="78.00" y1="508.80" x2="204.80" y2="508.80" stroke="#FFFFFF" stroke-width="0.9"/>
<line x1="78.00" y1="496.60" x2="204.80" y2="496.60" stroke="#FFFFFF" stroke-width="0.45"/>
<line x1="78.00" y1="484.40" x2="204.80" y2="484.40" stroke="#FFFFFF" stroke-width="0.9"/>
<line x1="78.00" y1="472.20" x2="204.80" y2="472.20" stroke="#FFFFFF" stroke-width="0.45"/>
<line x1="78.00" y1="460.00" x2="204.80" y2="460.00" stroke="#FFFFFF" stroke-width="0.9"/>
<line x1="90.67" y1="454.40" x2="90.67" y2="562.60" stroke="#FFFFFF" stroke-width="0.9"/>
<line x1="111.12" y1="454.40" x2="111.12" y2="562.60" stroke="#FFFFFF" stroke-width="0.9"/>
<line x1="131.57" y1="454.40" x2="131.57" y2="562.60" stroke="#FFFFFF" stroke-width="0.9"/>
<line x1="152.03" y1="454.40" x2="152.03" y2="562.60" stroke="#FFFFFF" stroke-width="0.9"/>
<line x1="172.48" y1="454.40" x2="172.48" y2="562.60" stroke="#FFFFFF" stroke-width="0.9"/>
<line x1="192.93" y1="454.40" x2="192.93" y2="562.60" stroke="#FFFFFF" stroke-width="0.9"/>
<rect x="81.32" y="460.00" width="18.71" height="32.40" fill="#F8766D"/>
<rect x="81.32" y="492.40" width="18.71" height="19.81" fill="#B79F00"/>
<rect x="81.32" y="512.22" width="18.71" height="17.47" fill="#00BA38"/>
<rect x="81.32" y="529.69" width="18.71" height="6.93" fill="#00BFC4"/>
<rect x="81.32" y="536.62" width="18.71" height="5.86" fill="#619CFF"/>
<rect x="81.32" y="542.47" width="18.71" height="15.13" fill="#F564E3"/>
<text x="81.50" y="569.00" font-size="6.6" fill="#333333" textLength="15.8" lengthAdjust="spacingAndGlyphs">NODE</text>
<rect x="101.77" y="460.00" width="18.71" height="16.10" fill="#F8766D"/>
<rect x="101.77" y="476.10" width="18.71" height="16.98" fill="#B79F00"/>
<rect x="101.77" y="493.09" width="18.71" height="22.16" fill="#00BA38"/>
<rect x="101.77" y="515.24" width="18.71" height="33.09" fill="#00BFC4"/>
<rect x="101.77" y="548.33" width="18.71" height="7.42" fill="#619CFF"/>
<rect x="101.77" y="555.75" width="18.71" height="1.85" fill="#F564E3"/>
<text x="101.10" y="569.00" font-size="6.6" fill="#333333" textLength="15.8" lengthAdjust="spacingAndGlyphs">RCTD</text>
<rect x="122.22" y="460.00" width="18.71" height="9.08" fill="#F8766D"/>
<rect x="122.22" y="469.08" width="18.71" height="5.37" fill="#B79F00"/>
<rect x="122.22" y="474.44" width="18.71" height="5.86" fill="#00BA38"/>
<rect x="122.22" y="480.30" width="18.71" height="14.44" fill="#00BFC4"/>
<rect x="122.22" y="494.75" width="18.71" height="34.45" fill="#619CFF"/>
<rect x="122.22" y="529.20" width="18.71" height="28.40" fill="#F564E3"/>
<text x="118.00" y="569.00" font-size="6.6" fill="#333333" textLength="27.4" lengthAdjust="spacingAndGlyphs">deconvSeq</text>
<rect x="142.67" y="460.00" width="18.71" height="5.37" fill="#F8766D"/>
<rect x="142.67" y="465.37" width="18.71" height="5.56" fill="#B79F00"/>
<rect x="142.67" y="470.93" width="18.71" height="5.37" fill="#00BA38"/>
<rect x="142.67" y="476.30" width="18.71" height="8.59" fill="#00BFC4"/>
<rect x="142.67" y="484.89" width="18.71" height="29.18" fill="#619CFF"/>
<rect x="142.67" y="514.07" width="18.71" height="43.53" fill="#F564E3"/>
<text x="146.20" y="569.00" font-size="6.6" fill="#333333" textLength="15.5" lengthAdjust="spacingAndGlyphs">Seurat</text>
<rect x="163.12" y="460.00" width="18.71" height="18.15" fill="#F8766D"/>
<rect x="163.12" y="478.15" width="18.71" height="26.06" fill="#B79F00"/>
<rect x="163.12" y="504.21" width="18.71" height="19.81" fill="#00BA38"/>
<rect x="163.12" y="524.03" width="18.71" height="17.28" fill="#00BFC4"/>
<rect x="163.12" y="541.30" width="18.71" height="11.13" fill="#619CFF"/>
<rect x="163.12" y="552.43" width="18.71" height="5.17" fill="#F564E3"/>
<text x="163.50" y="569.00" font-size="6.6" fill="#333333" textLength="19.4" lengthAdjust="spacingAndGlyphs">SpaTalk</text>
<rect x="183.58" y="460.00" width="18.71" height="17.96" fill="#F8766D"/>
<rect x="183.58" y="477.96" width="18.71" height="24.01" fill="#B79F00"/>
<rect x="183.58" y="501.97" width="18.71" height="27.23" fill="#00BA38"/>
<rect x="183.58" y="529.20" width="18.71" height="17.67" fill="#00BFC4"/>
<rect x="183.58" y="546.86" width="18.71" height="9.08" fill="#619CFF"/>
<rect x="183.58" y="555.94" width="18.71" height="1.66" fill="#F564E3"/>
<text x="184.90" y="569.00" font-size="6.6" fill="#333333" textLength="23.5" lengthAdjust="spacingAndGlyphs">SPOTlight</text>
<text x="76.70" y="559.50" font-size="5.5" text-anchor="end" fill="#333333" font-weight="normal">0.00</text>
<text x="76.70" y="535.10" font-size="5.5" text-anchor="end" fill="#333333" font-weight="normal">0.25</text>
<text x="76.70" y="510.70" font-size="5.5" text-anchor="end" fill="#333333" font-weight="normal">0.50</text>
<text x="76.70" y="486.30" font-size="5.5" text-anchor="end" fill="#333333" font-weight="normal">0.75</text>
<text x="76.70" y="461.90" font-size="5.5" text-anchor="end" fill="#333333" font-weight="normal">1.00</text>
<rect x="236.00" y="424.00" width="126.80" height="30.40" fill="#DBDCDC"/>
<text x="298.10" y="430.90" font-size="9.0" text-anchor="middle" fill="#222" font-weight="normal">Scenario 2</text>
<text x="298.10" y="441.60" font-size="9.0" text-anchor="middle" fill="#222" font-weight="normal">Replicate 2</text>
<text x="298.10" y="452.30" font-size="9.0" text-anchor="middle" fill="#222" font-weight="normal">Rank performances</text>
<rect x="236.00" y="454.40" width="126.80" height="108.20" fill="#EBEBEB"/>
<line x1="236.00" y1="557.60" x2="362.80" y2="557.60" stroke="#FFFFFF" stroke-width="0.9"/>
<line x1="236.00" y1="545.40" x2="362.80" y2="545.40" stroke="#FFFFFF" stroke-width="0.45"/>
<line x1="236.00" y1="533.20" x2="362.80" y2="533.20" stroke="#FFFFFF" stroke-width="0.9"/>
<line x1="236.00" y1="521.00" x2="362.80" y2="521.00" stroke="#FFFFFF" stroke-width="0.45"/>
<line x1="236.00" y1="508.80" x2="362.80" y2="508.80" stroke="#FFFFFF" stroke-width="0.9"/>
<line x1="236.00" y1="496.60" x2="362.80" y2="496.60" stroke="#FFFFFF" stroke-width="0.45"/>
<line x1="236.00" y1="484.40" x2="362.80" y2="484.40" stroke="#FFFFFF" stroke-width="0.9"/>
<line x1="236.00" y1="472.20" x2="362.80" y2="472.20" stroke="#FFFFFF" stroke-width="0.45"/>
<line x1="236.00" y1="460.00" x2="362.80" y2="460.00" stroke="#FFFFFF" stroke-width="0.9"/>
<line x1="248.67" y1="454.40" x2="248.67" y2="562.60" stroke="#FFFFFF" stroke-width="0.9"/>
<line x1="269.12" y1="454.40" x2="269.12" y2="562.60" stroke="#FFFFFF" stroke-width="0.9"/>
<line x1="289.57" y1="454.40" x2="289.57" y2="562.60" stroke="#FFFFFF" stroke-width="0.9"/>
<line x1="310.03" y1="454.40" x2="310.03" y2="562.60" stroke="#FFFFFF" stroke-width="0.9"/>
<line x1="330.48" y1="454.40" x2="330.48" y2="562.60" stroke="#FFFFFF" stroke-width="0.9"/>
<line x1="350.93" y1="454.40" x2="350.93" y2="562.60" stroke="#FFFFFF" stroke-width="0.9"/>
<rect x="239.32" y="460.00" width="18.71" height="74.96" fill="#F8766D"/>
<rect x="239.32" y="534.96" width="18.71" height="14.74" fill="#B79F00"/>
<rect x="239.32" y="549.69" width="18.71" height="5.76" fill="#00BA38"/>
<rect x="239.32" y="555.45" width="18.71" height="0.98" fill="#00BFC4"/>
<rect x="239.32" y="556.43" width="18.71" height="1.17" fill="#619CFF"/>
<text x="239.50" y="569.00" font-size="6.6" fill="#333333" textLength="15.8" lengthAdjust="spacingAndGlyphs">NODE</text>
<rect x="259.77" y="460.00" width="18.71" height="6.15" fill="#F8766D"/>
<rect x="259.77" y="466.15" width="18.71" height="42.65" fill="#B79F00"/>
<rect x="259.77" y="508.80" width="18.71" height="28.11" fill="#00BA38"/>
<rect x="259.77" y="536.91" width="18.71" height="17.18" fill="#00BFC4"/>
<rect x="259.77" y="554.09" width="18.71" height="3.51" fill="#619CFF"/>
<text x="259.10" y="569.00" font-size="6.6" fill="#333333" textLength="15.8" lengthAdjust="spacingAndGlyphs">RCTD</text>
<rect x="280.22" y="460.00" width="18.71" height="0.78" fill="#F8766D"/>
<rect x="280.22" y="460.78" width="18.71" height="1.95" fill="#B79F00"/>
<rect x="280.22" y="462.73" width="18.71" height="5.37" fill="#00BA38"/>
<rect x="280.22" y="468.10" width="18.71" height="10.83" fill="#00BFC4"/>
<rect x="280.22" y="478.93" width="18.71" height="36.60" fill="#619CFF"/>
<rect x="280.22" y="515.53" width="18.71" height="42.07" fill="#F564E3"/>
<text x="276.00" y="569.00" font-size="6.6" fill="#333333" textLength="27.4" lengthAdjust="spacingAndGlyphs">deconvSeq</text>
<rect x="300.67" y="460.00" width="18.71" height="4.88" fill="#F8766D"/>
<rect x="300.67" y="464.88" width="18.71" height="7.32" fill="#B79F00"/>
<rect x="300.67" y="472.20" width="18.71" height="5.47" fill="#00BA38"/>
<rect x="300.67" y="477.67" width="18.71" height="9.08" fill="#00BFC4"/>
<rect x="300.67" y="486.74" width="18.71" height="29.77" fill="#619CFF"/>
<rect x="300.67" y="516.51" width="18.71" height="41.09" fill="#F564E3"/>
<text x="304.20" y="569.00" font-size="6.6" fill="#333333" textLength="15.5" lengthAdjust="spacingAndGlyphs">Seurat</text>
<rect x="321.12" y="460.00" width="18.71" height="0.78" fill="#B79F00"/>
<rect x="321.12" y="460.78" width="18.71" height="18.93" fill="#00BA38"/>
<rect x="321.12" y="479.72" width="18.71" height="40.31" fill="#00BFC4"/>
<rect x="321.12" y="520.02" width="18.71" height="24.79" fill="#619CFF"/>
<rect x="321.12" y="544.81" width="18.71" height="12.79" fill="#F564E3"/>
<text x="321.50" y="569.00" font-size="6.6" fill="#333333" textLength="19.4" lengthAdjust="spacingAndGlyphs">SpaTalk</text>
<rect x="341.58" y="460.00" width="18.71" height="9.86" fill="#F8766D"/>
<rect x="341.58" y="469.86" width="18.71" height="30.26" fill="#B79F00"/>
<rect x="341.58" y="500.11" width="18.71" height="34.26" fill="#00BA38"/>
<rect x="341.58" y="534.37" width="18.71" height="18.35" fill="#00BFC4"/>
<rect x="341.58" y="552.72" width="18.71" height="3.71" fill="#619CFF"/>
<rect x="341.58" y="556.43" width="18.71" height="1.17" fill="#F564E3"/>
<text x="342.90" y="569.00" font-size="6.6" fill="#333333" textLength="23.5" lengthAdjust="spacingAndGlyphs">SPOTlight</text>
<text x="234.70" y="559.50" font-size="5.5" text-anchor="end" fill="#333333" font-weight="normal">0.00</text>
<text x="234.70" y="535.10" font-size="5.5" text-anchor="end" fill="#333333" font-weight="normal">0.25</text>
<text x="234.70" y="510.70" font-size="5.5" text-anchor="end" fill="#333333" font-weight="normal">0.50</text>
<text x="234.70" y="486.30" font-size="5.5" text-anchor="end" fill="#333333" font-weight="normal">0.75</text>
<text x="234.70" y="461.90" font-size="5.5" text-anchor="end" fill="#333333" font-weight="normal">1.00</text>
<rect x="394.30" y="424.00" width="126.80" height="30.40" fill="#DBDCDC"/>
<text x="456.40" y="430.90" font-size="9.0" text-anchor="middle" fill="#222" font-weight="normal">Scenario 3</text>
<text x="456.40" y="441.60" font-size="9.0" text-anchor="middle" fill="#222" font-weight="normal">Replicate 2</text>
<text x="456.40" y="452.30" font-size="9.0" text-anchor="middle" fill="#222" font-weight="normal">Rank performances</text>
<rect x="394.30" y="454.40" width="126.80" height="108.20" fill="#EBEBEB"/>
<line x1="394.30" y1="557.60" x2="521.10" y2="557.60" stroke="#FFFFFF" stroke-width="0.9"/>
<line x1="394.30" y1="545.40" x2="521.10" y2="545.40" stroke="#FFFFFF" stroke-width="0.45"/>
<line x1="394.30" y1="533.20" x2="521.10" y2="533.20" stroke="#FFFFFF" stroke-width="0.9"/>
<line x1="394.30" y1="521.00" x2="521.10" y2="521.00" stroke="#FFFFFF" stroke-width="0.45"/>
<line x1="394.30" y1="508.80" x2="521.10" y2="508.80" stroke="#FFFFFF" stroke-width="0.9"/>
<line x1="394.30" y1="496.60" x2="521.10" y2="496.60" stroke="#FFFFFF" stroke-width="0.45"/>
<line x1="394.30" y1="484.40" x2="521.10" y2="484.40" stroke="#FFFFFF" stroke-width="0.9"/>
<line x1="394.30" y1="472.20" x2="521.10" y2="472.20" stroke="#FFFFFF" stroke-width="0.45"/>
<line x1="394.30" y1="460.00" x2="521.10" y2="460.00" stroke="#FFFFFF" stroke-width="0.9"/>
<line x1="406.97" y1="454.40" x2="406.97" y2="562.60" stroke="#FFFFFF" stroke-width="0.9"/>
<line x1="427.42" y1="454.40" x2="427.42" y2="562.60" stroke="#FFFFFF" stroke-width="0.9"/>
<line x1="447.87" y1="454.40" x2="447.87" y2="562.60" stroke="#FFFFFF" stroke-width="0.9"/>
<line x1="468.33" y1="454.40" x2="468.33" y2="562.60" stroke="#FFFFFF" stroke-width="0.9"/>
<line x1="488.78" y1="454.40" x2="488.78" y2="562.60" stroke="#FFFFFF" stroke-width="0.9"/>
<line x1="509.23" y1="454.40" x2="509.23" y2="562.60" stroke="#FFFFFF" stroke-width="0.9"/>
<rect x="397.62" y="460.00" width="18.71" height="90.08" fill="#F8766D"/>
<rect x="397.62" y="550.08" width="18.71" height="7.52" fill="#B79F00"/>
<text x="397.80" y="569.00" font-size="6.6" fill="#333333" textLength="15.8" lengthAdjust="spacingAndGlyphs">NODE</text>
<rect x="418.07" y="460.00" width="18.71" height="0.59" fill="#F8766D"/>
<rect x="418.07" y="460.59" width="18.71" height="58.07" fill="#B79F00"/>
<rect x="418.07" y="518.66" width="18.71" height="27.13" fill="#00BA38"/>
<rect x="418.07" y="545.79" width="18.71" height="11.81" fill="#00BFC4"/>
<text x="417.40" y="569.00" font-size="6.6" fill="#333333" textLength="15.8" lengthAdjust="spacingAndGlyphs">RCTD</text>
<rect x="438.52" y="460.00" width="18.71" height="1.17" fill="#F8766D"/>
<rect x="438.52" y="461.17" width="18.71" height="1.76" fill="#B79F00"/>
<rect x="438.52" y="462.93" width="18.71" height="2.15" fill="#00BA38"/>
<rect x="438.52" y="465.08" width="18.71" height="9.66" fill="#00BFC4"/>
<rect x="438.52" y="474.74" width="18.71" height="21.67" fill="#619CFF"/>
<rect x="438.52" y="496.40" width="18.71" height="61.20" fill="#F564E3"/>
<text x="434.30" y="569.00" font-size="6.6" fill="#333333" textLength="27.4" lengthAdjust="spacingAndGlyphs">deconvSeq</text>
<rect x="458.97" y="460.00" width="18.71" height="1.95" fill="#F8766D"/>
<rect x="458.97" y="461.95" width="18.71" height="7.52" fill="#B79F00"/>
<rect x="458.97" y="469.47" width="18.71" height="17.28" fill="#00BA38"/>
<rect x="458.97" y="486.74" width="18.71" height="8.69" fill="#00BFC4"/>
<rect x="458.97" y="495.43" width="18.71" height="43.82" fill="#619CFF"/>
<rect x="458.97" y="539.25" width="18.71" height="18.35" fill="#F564E3"/>
<text x="462.50" y="569.00" font-size="6.6" fill="#333333" textLength="15.5" lengthAdjust="spacingAndGlyphs">Seurat</text>
<rect x="479.42" y="460.00" width="18.71" height="3.12" fill="#B79F00"/>
<rect x="479.42" y="463.12" width="18.71" height="19.13" fill="#00BA38"/>
<rect x="479.42" y="482.25" width="18.71" height="39.33" fill="#00BFC4"/>
<rect x="479.42" y="521.59" width="18.71" height="19.72" fill="#619CFF"/>
<rect x="479.42" y="541.30" width="18.71" height="16.30" fill="#F564E3"/>
<text x="479.80" y="569.00" font-size="6.6" fill="#333333" textLength="19.4" lengthAdjust="spacingAndGlyphs">SpaTalk</text>
<rect x="499.88" y="460.00" width="18.71" height="2.73" fill="#F8766D"/>
<rect x="499.88" y="462.73" width="18.71" height="20.50" fill="#B79F00"/>
<rect x="499.88" y="483.23" width="18.71" height="32.11" fill="#00BA38"/>
<rect x="499.88" y="515.34" width="18.71" height="29.67" fill="#00BFC4"/>
<rect x="499.88" y="545.01" width="18.71" height="11.03" fill="#619CFF"/>
<rect x="499.88" y="556.04" width="18.71" height="1.56" fill="#F564E3"/>
<text x="501.20" y="569.00" font-size="6.6" fill="#333333" textLength="23.5" lengthAdjust="spacingAndGlyphs">SPOTlight</text>
<text x="393.00" y="559.50" font-size="5.5" text-anchor="end" fill="#333333" font-weight="normal">0.00</text>
<text x="393.00" y="535.10" font-size="5.5" text-anchor="end" fill="#333333" font-weight="normal">0.25</text>
<text x="393.00" y="510.70" font-size="5.5" text-anchor="end" fill="#333333" font-weight="normal">0.50</text>
<text x="393.00" y="486.30" font-size="5.5" text-anchor="end" fill="#333333" font-weight="normal">0.75</text>
<text x="393.00" y="461.90" font-size="5.5" text-anchor="end" fill="#333333" font-weight="normal">1.00</text>
<rect x="552.10" y="424.00" width="126.80" height="30.40" fill="#DBDCDC"/>
<text x="614.20" y="430.90" font-size="9.0" text-anchor="middle" fill="#222" font-weight="normal">Scenario 4</text>
<text x="614.20" y="441.60" font-size="9.0" text-anchor="middle" fill="#222" font-weight="normal">Replicate 2</text>
<text x="614.20" y="452.30" font-size="9.0" text-anchor="middle" fill="#222" font-weight="normal">Rank performances</text>
<rect x="552.10" y="454.40" width="126.80" height="108.20" fill="#EBEBEB"/>
<line x1="552.10" y1="557.60" x2="678.90" y2="557.60" stroke="#FFFFFF" stroke-width="0.9"/>
<line x1="552.10" y1="545.40" x2="678.90" y2="545.40" stroke="#FFFFFF" stroke-width="0.45"/>
<line x1="552.10" y1="533.20" x2="678.90" y2="533.20" stroke="#FFFFFF" stroke-width="0.9"/>
<line x1="552.10" y1="521.00" x2="678.90" y2="521.00" stroke="#FFFFFF" stroke-width="0.45"/>
<line x1="552.10" y1="508.80" x2="678.90" y2="508.80" stroke="#FFFFFF" stroke-width="0.9"/>
<line x1="552.10" y1="496.60" x2="678.90" y2="496.60" stroke="#FFFFFF" stroke-width="0.45"/>
<line x1="552.10" y1="484.40" x2="678.90" y2="484.40" stroke="#FFFFFF" stroke-width="0.9"/>
<line x1="552.10" y1="472.20" x2="678.90" y2="472.20" stroke="#FFFFFF" stroke-width="0.45"/>
<line x1="552.10" y1="460.00" x2="678.90" y2="460.00" stroke="#FFFFFF" stroke-width="0.9"/>
<line x1="564.77" y1="454.40" x2="564.77" y2="562.60" stroke="#FFFFFF" stroke-width="0.9"/>
<line x1="585.22" y1="454.40" x2="585.22" y2="562.60" stroke="#FFFFFF" stroke-width="0.9"/>
<line x1="605.67" y1="454.40" x2="605.67" y2="562.60" stroke="#FFFFFF" stroke-width="0.9"/>
<line x1="626.13" y1="454.40" x2="626.13" y2="562.60" stroke="#FFFFFF" stroke-width="0.9"/>
<line x1="646.58" y1="454.40" x2="646.58" y2="562.60" stroke="#FFFFFF" stroke-width="0.9"/>
<line x1="667.03" y1="454.40" x2="667.03" y2="562.60" stroke="#FFFFFF" stroke-width="0.9"/>
<rect x="555.42" y="460.00" width="18.71" height="52.31" fill="#F8766D"/>
<rect x="555.42" y="512.31" width="18.71" height="13.37" fill="#B79F00"/>
<rect x="555.42" y="525.68" width="18.71" height="9.86" fill="#00BA38"/>
<rect x="555.42" y="535.54" width="18.71" height="6.34" fill="#00BFC4"/>
<rect x="555.42" y="541.89" width="18.71" height="4.68" fill="#619CFF"/>
<rect x="555.42" y="546.57" width="18.71" height="11.03" fill="#F564E3"/>
<text x="555.60" y="569.00" font-size="6.6" fill="#333333" textLength="15.8" lengthAdjust="spacingAndGlyphs">NODE</text>
<rect x="575.87" y="460.00" width="18.71" height="12.79" fill="#F8766D"/>
<rect x="575.87" y="472.79" width="18.71" height="15.91" fill="#B79F00"/>
<rect x="575.87" y="488.69" width="18.71" height="15.23" fill="#00BA38"/>
<rect x="575.87" y="503.92" width="18.71" height="36.99" fill="#00BFC4"/>
<rect x="575.87" y="540.91" width="18.71" height="11.81" fill="#619CFF"/>
<rect x="575.87" y="552.72" width="18.71" height="4.88" fill="#F564E3"/>
<text x="575.20" y="569.00" font-size="6.6" fill="#333333" textLength="15.8" lengthAdjust="spacingAndGlyphs">RCTD</text>
<rect x="596.32" y="460.00" width="18.71" height="9.86" fill="#F8766D"/>
<rect x="596.32" y="469.86" width="18.71" height="5.08" fill="#B79F00"/>
<rect x="596.32" y="474.93" width="18.71" height="4.00" fill="#00BA38"/>
<rect x="596.32" y="478.93" width="18.71" height="4.88" fill="#00BFC4"/>
<rect x="596.32" y="483.81" width="18.71" height="29.87" fill="#619CFF"/>
<rect x="596.32" y="513.68" width="18.71" height="43.92" fill="#F564E3"/>
<text x="592.10" y="569.00" font-size="6.6" fill="#333333" textLength="27.4" lengthAdjust="spacingAndGlyphs">deconvSeq</text>
<rect x="616.77" y="460.00" width="18.71" height="10.83" fill="#F8766D"/>
<rect x="616.77" y="470.83" width="18.71" height="6.83" fill="#B79F00"/>
<rect x="616.77" y="477.67" width="18.71" height="12.40" fill="#00BA38"/>
<rect x="616.77" y="490.06" width="18.71" height="11.81" fill="#00BFC4"/>
<rect x="616.77" y="501.87" width="18.71" height="28.01" fill="#619CFF"/>
<rect x="616.77" y="529.88" width="18.71" height="27.72" fill="#F564E3"/>
<text x="620.30" y="569.00" font-size="6.6" fill="#333333" textLength="15.5" lengthAdjust="spacingAndGlyphs">Seurat</text>
<rect x="637.22" y="460.00" width="18.71" height="4.49" fill="#F8766D"/>
<rect x="637.22" y="464.49" width="18.71" height="39.43" fill="#B79F00"/>
<rect x="637.22" y="503.92" width="18.71" height="22.94" fill="#00BA38"/>
<rect x="637.22" y="526.86" width="18.71" height="15.81" fill="#00BFC4"/>
<rect x="637.22" y="542.67" width="18.71" height="11.42" fill="#619CFF"/>
<rect x="637.22" y="554.09" width="18.71" height="3.51" fill="#F564E3"/>
<text x="637.60" y="569.00" font-size="6.6" fill="#333333" textLength="19.4" lengthAdjust="spacingAndGlyphs">SpaTalk</text>
<rect x="657.68" y="460.00" width="18.71" height="15.71" fill="#F8766D"/>
<rect x="657.68" y="475.71" width="18.71" height="13.96" fill="#B79F00"/>
<rect x="657.68" y="489.67" width="18.71" height="30.16" fill="#00BA38"/>
<rect x="657.68" y="519.83" width="18.71" height="18.84" fill="#00BFC4"/>
<rect x="657.68" y="538.67" width="18.71" height="12.40" fill="#619CFF"/>
<rect x="657.68" y="551.06" width="18.71" height="6.54" fill="#F564E3"/>
<text x="659.00" y="569.00" font-size="6.6" fill="#333333" textLength="23.5" lengthAdjust="spacingAndGlyphs">SPOTlight</text>
<text x="550.80" y="559.50" font-size="5.5" text-anchor="end" fill="#333333" font-weight="normal">0.00</text>
<text x="550.80" y="535.10" font-size="5.5" text-anchor="end" fill="#333333" font-weight="normal">0.25</text>
<text x="550.80" y="510.70" font-size="5.5" text-anchor="end" fill="#333333" font-weight="normal">0.50</text>
<text x="550.80" y="486.30" font-size="5.5" text-anchor="end" fill="#333333" font-weight="normal">0.75</text>
<text x="550.80" y="461.90" font-size="5.5" text-anchor="end" fill="#333333" font-weight="normal">1.00</text>
<text x="67.30" y="285.70" font-size="10" text-anchor="middle" fill="#1a1a1a" font-weight="bold">b</text>
<text x="7.70" y="392.00" font-size="6.6" text-anchor="start" fill="#1a1a1a" font-weight="normal">Rank</text>
<rect x="6.00" y="400.30" width="12.90" height="11.60" fill="#F8766D"/>
<text x="25.20" y="408.60" font-size="7.0" text-anchor="middle" fill="#222" font-weight="normal">1</text>
<rect x="37.50" y="400.30" width="12.90" height="11.60" fill="#B79F00"/>
<text x="56.70" y="408.60" font-size="7.0" text-anchor="middle" fill="#222" font-weight="normal">2</text>
<rect x="6.00" y="430.40" width="12.90" height="11.60" fill="#00BA38"/>
<text x="25.20" y="438.70" font-size="7.0" text-anchor="middle" fill="#222" font-weight="normal">3</text>
<rect x="37.50" y="430.40" width="12.90" height="11.60" fill="#00BFC4"/>
<text x="56.70" y="438.70" font-size="7.0" text-anchor="middle" fill="#222" font-weight="normal">4</text>
<rect x="6.00" y="460.50" width="12.90" height="11.60" fill="#619CFF"/>
<text x="25.20" y="468.80" font-size="7.0" text-anchor="middle" fill="#222" font-weight="normal">5</text>
<rect x="37.50" y="460.50" width="12.90" height="11.60" fill="#F564E3"/>
<text x="56.70" y="468.80" font-size="7.0" text-anchor="middle" fill="#222" font-weight="normal">6</text>
<rect x="97.90" y="573.00" width="110.20" height="126.60" fill="#EBEBEB"/>
<line x1="97.90" y1="693.70" x2="208.10" y2="693.70" stroke="#FFFFFF" stroke-width="0.9"/>
<line x1="97.90" y1="679.28" x2="208.10" y2="679.28" stroke="#FFFFFF" stroke-width="0.45"/>
<line x1="97.90" y1="664.85" x2="208.10" y2="664.85" stroke="#FFFFFF" stroke-width="0.9"/>
<line x1="97.90" y1="650.42" x2="208.10" y2="650.42" stroke="#FFFFFF" stroke-width="0.45"/>
<line x1="97.90" y1="636.00" x2="208.10" y2="636.00" stroke="#FFFFFF" stroke-width="0.9"/>
<line x1="97.90" y1="621.58" x2="208.10" y2="621.58" stroke="#FFFFFF" stroke-width="0.45"/>
<line x1="97.90" y1="607.15" x2="208.10" y2="607.15" stroke="#FFFFFF" stroke-width="0.9"/>
<line x1="97.90" y1="592.72" x2="208.10" y2="592.72" stroke="#FFFFFF" stroke-width="0.45"/>
<line x1="97.90" y1="578.30" x2="208.10" y2="578.30" stroke="#FFFFFF" stroke-width="0.9"/>
<line x1="108.56" y1="573.00" x2="108.56" y2="699.60" stroke="#FFFFFF" stroke-width="0.9"/>
<line x1="126.34" y1="573.00" x2="126.34" y2="699.60" stroke="#FFFFFF" stroke-width="0.9"/>
<line x1="144.11" y1="573.00" x2="144.11" y2="699.60" stroke="#FFFFFF" stroke-width="0.9"/>
<line x1="161.89" y1="573.00" x2="161.89" y2="699.60" stroke="#FFFFFF" stroke-width="0.9"/>
<line x1="179.66" y1="573.00" x2="179.66" y2="699.60" stroke="#FFFFFF" stroke-width="0.9"/>
<line x1="197.44" y1="573.00" x2="197.44" y2="699.60" stroke="#FFFFFF" stroke-width="0.9"/>
<rect x="100.77" y="578.30" width="15.60" height="115.40" fill="#F8766D"/>
<text x="108.56" y="582.60" font-size="4.2" text-anchor="middle" fill="#1a1a1a" font-weight="normal">1.0</text>
<rect x="118.54" y="578.30" width="15.60" height="115.40" fill="#B79F00"/>
<text x="126.34" y="582.60" font-size="4.2" text-anchor="middle" fill="#1a1a1a" font-weight="normal">1.0</text>
<rect x="136.31" y="578.30" width="15.60" height="115.40" fill="#00BA38"/>
<text x="144.11" y="582.60" font-size="4.2" text-anchor="middle" fill="#1a1a1a" font-weight="normal">1.0</text>
<rect x="154.09" y="584.76" width="15.60" height="108.94" fill="#F564E3"/>
<text x="161.89" y="589.06" font-size="4.2" text-anchor="middle" fill="#1a1a1a" font-weight="normal">0.9441</text>
<rect x="171.86" y="585.90" width="15.60" height="107.80" fill="#00BFC4"/>
<text x="179.66" y="590.20" font-size="4.2" text-anchor="middle" fill="#1a1a1a" font-weight="normal">0.9360</text>
<rect x="189.64" y="661.84" width="15.60" height="31.86" fill="#619CFF"/>
<text x="197.44" y="666.14" font-size="4.2" text-anchor="middle" fill="#1a1a1a" font-weight="normal">0.2761</text>
<line x1="96.30" y1="693.70" x2="97.90" y2="693.70" stroke="#444444" stroke-width="0.6"/>
<text x="95.30" y="696.50" font-size="8.1" text-anchor="end" fill="#1a1a1a" font-weight="normal">0.00</text>
<line x1="96.30" y1="664.85" x2="97.90" y2="664.85" stroke="#444444" stroke-width="0.6"/>
<text x="95.30" y="667.65" font-size="8.1" text-anchor="end" fill="#1a1a1a" font-weight="normal">0.25</text>
<line x1="96.30" y1="636.00" x2="97.90" y2="636.00" stroke="#444444" stroke-width="0.6"/>
<text x="95.30" y="638.80" font-size="8.1" text-anchor="end" fill="#1a1a1a" font-weight="normal">0.50</text>
<line x1="96.30" y1="607.15" x2="97.90" y2="607.15" stroke="#444444" stroke-width="0.6"/>
<text x="95.30" y="609.95" font-size="8.1" text-anchor="end" fill="#1a1a1a" font-weight="normal">0.75</text>
<line x1="96.30" y1="578.30" x2="97.90" y2="578.30" stroke="#444444" stroke-width="0.6"/>
<text x="95.30" y="581.10" font-size="8.1" text-anchor="end" fill="#1a1a1a" font-weight="normal">1.00</text>
<rect x="96.70" y="701.00" width="111.40" height="11.70" fill="#DBDCDC"/>
<text x="151.60" y="709.30" font-size="9.1" text-anchor="middle" fill="#1a1a1a" font-weight="normal">Scenario 2 replicate 1</text>
<rect x="249.70" y="573.00" width="109.80" height="126.60" fill="#EBEBEB"/>
<line x1="249.70" y1="693.70" x2="359.50" y2="693.70" stroke="#FFFFFF" stroke-width="0.9"/>
<line x1="249.70" y1="679.28" x2="359.50" y2="679.28" stroke="#FFFFFF" stroke-width="0.45"/>
<line x1="249.70" y1="664.85" x2="359.50" y2="664.85" stroke="#FFFFFF" stroke-width="0.9"/>
<line x1="249.70" y1="650.42" x2="359.50" y2="650.42" stroke="#FFFFFF" stroke-width="0.45"/>
<line x1="249.70" y1="636.00" x2="359.50" y2="636.00" stroke="#FFFFFF" stroke-width="0.9"/>
<line x1="249.70" y1="621.58" x2="359.50" y2="621.58" stroke="#FFFFFF" stroke-width="0.45"/>
<line x1="249.70" y1="607.15" x2="359.50" y2="607.15" stroke="#FFFFFF" stroke-width="0.9"/>
<line x1="249.70" y1="592.72" x2="359.50" y2="592.72" stroke="#FFFFFF" stroke-width="0.45"/>
<line x1="249.70" y1="578.30" x2="359.50" y2="578.30" stroke="#FFFFFF" stroke-width="0.9"/>
<line x1="260.33" y1="573.00" x2="260.33" y2="699.60" stroke="#FFFFFF" stroke-width="0.9"/>
<line x1="278.04" y1="573.00" x2="278.04" y2="699.60" stroke="#FFFFFF" stroke-width="0.9"/>
<line x1="295.75" y1="573.00" x2="295.75" y2="699.60" stroke="#FFFFFF" stroke-width="0.9"/>
<line x1="313.45" y1="573.00" x2="313.45" y2="699.60" stroke="#FFFFFF" stroke-width="0.9"/>
<line x1="331.16" y1="573.00" x2="331.16" y2="699.60" stroke="#FFFFFF" stroke-width="0.9"/>
<line x1="348.87" y1="573.00" x2="348.87" y2="699.60" stroke="#FFFFFF" stroke-width="0.9"/>
<rect x="252.56" y="578.30" width="15.54" height="115.40" fill="#F8766D"/>
<text x="260.33" y="582.60" font-size="4.2" text-anchor="middle" fill="#1a1a1a" font-weight="normal">1.0</text>
<rect x="270.27" y="578.30" width="15.54" height="115.40" fill="#B79F00"/>
<text x="278.04" y="582.60" font-size="4.2" text-anchor="middle" fill="#1a1a1a" font-weight="normal">1.0</text>
<rect x="287.98" y="578.30" width="15.54" height="115.40" fill="#00BA38"/>
<text x="295.75" y="582.60" font-size="4.2" text-anchor="middle" fill="#1a1a1a" font-weight="normal">1.0</text>
<rect x="305.69" y="585.03" width="15.54" height="108.67" fill="#F564E3"/>
<text x="313.45" y="589.33" font-size="4.2" text-anchor="middle" fill="#1a1a1a" font-weight="normal">0.9417</text>
<rect x="323.40" y="585.66" width="15.54" height="108.04" fill="#00BFC4"/>
<text x="331.16" y="589.96" font-size="4.2" text-anchor="middle" fill="#1a1a1a" font-weight="normal">0.9362</text>
<rect x="341.10" y="651.48" width="15.54" height="42.22" fill="#619CFF"/>
<text x="348.87" y="655.78" font-size="4.2" text-anchor="middle" fill="#1a1a1a" font-weight="normal">0.3659</text>
<line x1="248.10" y1="693.70" x2="249.70" y2="693.70" stroke="#444444" stroke-width="0.6"/>
<text x="247.10" y="696.50" font-size="8.1" text-anchor="end" fill="#1a1a1a" font-weight="normal">0.00</text>
<line x1="248.10" y1="664.85" x2="249.70" y2="664.85" stroke="#444444" stroke-width="0.6"/>
<text x="247.10" y="667.65" font-size="8.1" text-anchor="end" fill="#1a1a1a" font-weight="normal">0.25</text>
<line x1="248.10" y1="636.00" x2="249.70" y2="636.00" stroke="#444444" stroke-width="0.6"/>
<text x="247.10" y="638.80" font-size="8.1" text-anchor="end" fill="#1a1a1a" font-weight="normal">0.50</text>
<line x1="248.10" y1="607.15" x2="249.70" y2="607.15" stroke="#444444" stroke-width="0.6"/>
<text x="247.10" y="609.95" font-size="8.1" text-anchor="end" fill="#1a1a1a" font-weight="normal">0.75</text>
<line x1="248.10" y1="578.30" x2="249.70" y2="578.30" stroke="#444444" stroke-width="0.6"/>
<text x="247.10" y="581.10" font-size="8.1" text-anchor="end" fill="#1a1a1a" font-weight="normal">1.00</text>
<rect x="248.50" y="701.00" width="111.00" height="11.70" fill="#DBDCDC"/>
<text x="303.20" y="709.30" font-size="9.1" text-anchor="middle" fill="#1a1a1a" font-weight="normal">Scenario 2 replicate 2</text>
<rect x="97.90" y="717.30" width="110.20" height="127.00" fill="#EBEBEB"/>
<line x1="97.90" y1="838.10" x2="208.10" y2="838.10" stroke="#FFFFFF" stroke-width="0.9"/>
<line x1="97.90" y1="823.65" x2="208.10" y2="823.65" stroke="#FFFFFF" stroke-width="0.45"/>
<line x1="97.90" y1="809.20" x2="208.10" y2="809.20" stroke="#FFFFFF" stroke-width="0.9"/>
<line x1="97.90" y1="794.75" x2="208.10" y2="794.75" stroke="#FFFFFF" stroke-width="0.45"/>
<line x1="97.90" y1="780.30" x2="208.10" y2="780.30" stroke="#FFFFFF" stroke-width="0.9"/>
<line x1="97.90" y1="765.85" x2="208.10" y2="765.85" stroke="#FFFFFF" stroke-width="0.45"/>
<line x1="97.90" y1="751.40" x2="208.10" y2="751.40" stroke="#FFFFFF" stroke-width="0.9"/>
<line x1="97.90" y1="736.95" x2="208.10" y2="736.95" stroke="#FFFFFF" stroke-width="0.45"/>
<line x1="97.90" y1="722.50" x2="208.10" y2="722.50" stroke="#FFFFFF" stroke-width="0.9"/>
<line x1="108.56" y1="717.30" x2="108.56" y2="844.30" stroke="#FFFFFF" stroke-width="0.9"/>
<line x1="126.34" y1="717.30" x2="126.34" y2="844.30" stroke="#FFFFFF" stroke-width="0.9"/>
<line x1="144.11" y1="717.30" x2="144.11" y2="844.30" stroke="#FFFFFF" stroke-width="0.9"/>
<line x1="161.89" y1="717.30" x2="161.89" y2="844.30" stroke="#FFFFFF" stroke-width="0.9"/>
<line x1="179.66" y1="717.30" x2="179.66" y2="844.30" stroke="#FFFFFF" stroke-width="0.9"/>
<line x1="197.44" y1="717.30" x2="197.44" y2="844.30" stroke="#FFFFFF" stroke-width="0.9"/>
<rect x="100.77" y="722.50" width="15.60" height="115.60" fill="#F8766D"/>
<text x="108.56" y="726.80" font-size="4.2" text-anchor="middle" fill="#1a1a1a" font-weight="normal">1.0</text>
<rect x="118.54" y="722.50" width="15.60" height="115.60" fill="#B79F00"/>
<text x="126.34" y="726.80" font-size="4.2" text-anchor="middle" fill="#1a1a1a" font-weight="normal">1.0</text>
<rect x="136.31" y="722.50" width="15.60" height="115.60" fill="#00BA38"/>
<text x="144.11" y="726.80" font-size="4.2" text-anchor="middle" fill="#1a1a1a" font-weight="normal">1.0</text>
<rect x="154.09" y="729.34" width="15.60" height="108.76" fill="#F564E3"/>
<text x="161.89" y="733.64" font-size="4.2" text-anchor="middle" fill="#1a1a1a" font-weight="normal">0.9408</text>
<rect x="171.86" y="729.83" width="15.60" height="108.27" fill="#00BFC4"/>
<text x="179.66" y="734.13" font-size="4.2" text-anchor="middle" fill="#1a1a1a" font-weight="normal">0.9366</text>
<rect x="189.64" y="804.40" width="15.60" height="33.70" fill="#619CFF"/>
<text x="197.44" y="808.70" font-size="4.2" text-anchor="middle" fill="#1a1a1a" font-weight="normal">0.2915</text>
<line x1="96.30" y1="838.10" x2="97.90" y2="838.10" stroke="#444444" stroke-width="0.6"/>
<text x="95.30" y="840.90" font-size="8.1" text-anchor="end" fill="#1a1a1a" font-weight="normal">0.00</text>
<line x1="96.30" y1="809.20" x2="97.90" y2="809.20" stroke="#444444" stroke-width="0.6"/>
<text x="95.30" y="812.00" font-size="8.1" text-anchor="end" fill="#1a1a1a" font-weight="normal">0.25</text>
<line x1="96.30" y1="780.30" x2="97.90" y2="780.30" stroke="#444444" stroke-width="0.6"/>
<text x="95.30" y="783.10" font-size="8.1" text-anchor="end" fill="#1a1a1a" font-weight="normal">0.50</text>
<line x1="96.30" y1="751.40" x2="97.90" y2="751.40" stroke="#444444" stroke-width="0.6"/>
<text x="95.30" y="754.20" font-size="8.1" text-anchor="end" fill="#1a1a1a" font-weight="normal">0.75</text>
<line x1="96.30" y1="722.50" x2="97.90" y2="722.50" stroke="#444444" stroke-width="0.6"/>
<text x="95.30" y="725.30" font-size="8.1" text-anchor="end" fill="#1a1a1a" font-weight="normal">1.00</text>
<rect x="96.70" y="846.00" width="111.40" height="12.00" fill="#DBDCDC"/>
<text x="151.60" y="854.30" font-size="9.1" text-anchor="middle" fill="#1a1a1a" font-weight="normal">Scenario 4 replicate 1</text>
<rect x="249.70" y="717.30" width="109.80" height="127.00" fill="#EBEBEB"/>
<line x1="249.70" y1="838.10" x2="359.50" y2="838.10" stroke="#FFFFFF" stroke-width="0.9"/>
<line x1="249.70" y1="823.65" x2="359.50" y2="823.65" stroke="#FFFFFF" stroke-width="0.45"/>
<line x1="249.70" y1="809.20" x2="359.50" y2="809.20" stroke="#FFFFFF" stroke-width="0.9"/>
<line x1="249.70" y1="794.75" x2="359.50" y2="794.75" stroke="#FFFFFF" stroke-width="0.45"/>
<line x1="249.70" y1="780.30" x2="359.50" y2="780.30" stroke="#FFFFFF" stroke-width="0.9"/>
<line x1="249.70" y1="765.85" x2="359.50" y2="765.85" stroke="#FFFFFF" stroke-width="0.45"/>
<line x1="249.70" y1="751.40" x2="359.50" y2="751.40" stroke="#FFFFFF" stroke-width="0.9"/>
<line x1="249.70" y1="736.95" x2="359.50" y2="736.95" stroke="#FFFFFF" stroke-width="0.45"/>
<line x1="249.70" y1="722.50" x2="359.50" y2="722.50" stroke="#FFFFFF" stroke-width="0.9"/>
<line x1="260.33" y1="717.30" x2="260.33" y2="844.30" stroke="#FFFFFF" stroke-width="0.9"/>
<line x1="278.04" y1="717.30" x2="278.04" y2="844.30" stroke="#FFFFFF" stroke-width="0.9"/>
<line x1="295.75" y1="717.30" x2="295.75" y2="844.30" stroke="#FFFFFF" stroke-width="0.9"/>
<line x1="313.45" y1="717.30" x2="313.45" y2="844.30" stroke="#FFFFFF" stroke-width="0.9"/>
<line x1="331.16" y1="717.30" x2="331.16" y2="844.30" stroke="#FFFFFF" stroke-width="0.9"/>
<line x1="348.87" y1="717.30" x2="348.87" y2="844.30" stroke="#FFFFFF" stroke-width="0.9"/>
<rect x="252.56" y="722.50" width="15.54" height="115.60" fill="#F8766D"/>
<text x="260.33" y="726.80" font-size="4.2" text-anchor="middle" fill="#1a1a1a" font-weight="normal">1.0</text>
<rect x="270.27" y="722.50" width="15.54" height="115.60" fill="#B79F00"/>
<text x="278.04" y="726.80" font-size="4.2" text-anchor="middle" fill="#1a1a1a" font-weight="normal">1.0</text>
<rect x="287.98" y="722.50" width="15.54" height="115.60" fill="#00BA38"/>
<text x="295.75" y="726.80" font-size="4.2" text-anchor="middle" fill="#1a1a1a" font-weight="normal">1.0</text>
<rect x="305.69" y="729.34" width="15.54" height="108.76" fill="#F564E3"/>
<text x="313.45" y="733.64" font-size="4.2" text-anchor="middle" fill="#1a1a1a" font-weight="normal">0.9408</text>
<rect x="323.40" y="730.08" width="15.54" height="108.02" fill="#00BFC4"/>
<text x="331.16" y="734.38" font-size="4.2" text-anchor="middle" fill="#1a1a1a" font-weight="normal">0.9344</text>
<rect x="341.10" y="801.18" width="15.54" height="36.92" fill="#619CFF"/>
<text x="348.87" y="805.48" font-size="4.2" text-anchor="middle" fill="#1a1a1a" font-weight="normal">0.3194</text>
<line x1="248.10" y1="838.10" x2="249.70" y2="838.10" stroke="#444444" stroke-width="0.6"/>
<text x="247.10" y="840.90" font-size="8.1" text-anchor="end" fill="#1a1a1a" font-weight="normal">0.00</text>
<line x1="248.10" y1="809.20" x2="249.70" y2="809.20" stroke="#444444" stroke-width="0.6"/>
<text x="247.10" y="812.00" font-size="8.1" text-anchor="end" fill="#1a1a1a" font-weight="normal">0.25</text>
<line x1="248.10" y1="780.30" x2="249.70" y2="780.30" stroke="#444444" stroke-width="0.6"/>
<text x="247.10" y="783.10" font-size="8.1" text-anchor="end" fill="#1a1a1a" font-weight="normal">0.50</text>
<line x1="248.10" y1="751.40" x2="249.70" y2="751.40" stroke="#444444" stroke-width="0.6"/>
<text x="247.10" y="754.20" font-size="8.1" text-anchor="end" fill="#1a1a1a" font-weight="normal">0.75</text>
<line x1="248.10" y1="722.50" x2="249.70" y2="722.50" stroke="#444444" stroke-width="0.6"/>
<text x="247.10" y="725.30" font-size="8.1" text-anchor="end" fill="#1a1a1a" font-weight="normal">1.00</text>
<rect x="248.50" y="846.00" width="111.00" height="12.00" fill="#DBDCDC"/>
<text x="303.20" y="854.30" font-size="9.1" text-anchor="middle" fill="#1a1a1a" font-weight="normal">Scenario 4 replicate 2</text>
<text x="66.90" y="584.90" font-size="11.5" text-anchor="middle" fill="#1a1a1a" font-weight="bold">c</text>
<rect x="370.00" y="660.20" width="10.20" height="9.60" fill="#F8766D"/>
<text x="381.40" y="667.40" font-size="7.1" text-anchor="start" fill="#1a1a1a" font-weight="normal">1 -&#160; p-value(kendall)</text>
<rect x="370.00" y="675.70" width="10.20" height="9.60" fill="#B79F00"/>
<text x="381.40" y="682.90" font-size="7.1" text-anchor="start" fill="#1a1a1a" font-weight="normal">1 -&#160; p-value(pearson)</text>
<rect x="370.00" y="691.20" width="10.20" height="9.60" fill="#00BA38"/>
<text x="381.40" y="698.40" font-size="7.1" text-anchor="start" fill="#1a1a1a" font-weight="normal">1 -&#160; p-value(spearman)</text>
<rect x="370.00" y="706.70" width="10.20" height="9.60" fill="#619CFF"/>
<text x="381.40" y="713.90" font-size="7.1" text-anchor="start" fill="#1a1a1a" font-weight="normal">Pearson correlation coefficient</text>
<rect x="370.00" y="722.20" width="10.20" height="9.60" fill="#F564E3"/>
<text x="381.40" y="729.40" font-size="7.1" text-anchor="start" fill="#1a1a1a" font-weight="normal">Spearman's rank correlation coefficient</text>
<rect x="370.00" y="737.70" width="10.20" height="9.60" fill="#00BFC4"/>
<text x="381.40" y="744.90" font-size="7.1" text-anchor="start" fill="#1a1a1a" font-weight="normal">Kendall's tau rank correlation coefficient</text>
<text x="515.50" y="584.90" font-size="10" text-anchor="middle" fill="#1a1a1a" font-weight="bold">d</text>
<text x="623.00" y="589.60" font-size="12.1" text-anchor="middle" fill="#1a1a1a" font-weight="normal">Scenario 2&#160; ROC space</text>
<rect x="567.50" y="595.50" width="110.00" height="82.00" fill="#FFFFFF" stroke="#555555" stroke-width="0.9"/>
<line x1="566.00" y1="675.40" x2="567.50" y2="675.40" stroke="#333" stroke-width="0.6"/>
<text x="565.20" y="676.90" font-size="4.2" text-anchor="end" fill="#222" font-weight="normal">0.0</text>
<line x1="566.00" y1="659.76" x2="567.50" y2="659.76" stroke="#333" stroke-width="0.6"/>
<text x="565.20" y="661.26" font-size="4.2" text-anchor="end" fill="#222" font-weight="normal">0.2</text>
<line x1="566.00" y1="644.12" x2="567.50" y2="644.12" stroke="#333" stroke-width="0.6"/>
<text x="565.20" y="645.62" font-size="4.2" text-anchor="end" fill="#222" font-weight="normal">0.4</text>
<line x1="566.00" y1="628.48" x2="567.50" y2="628.48" stroke="#333" stroke-width="0.6"/>
<text x="565.20" y="629.98" font-size="4.2" text-anchor="end" fill="#222" font-weight="normal">0.6</text>
<line x1="566.00" y1="612.84" x2="567.50" y2="612.84" stroke="#333" stroke-width="0.6"/>
<text x="565.20" y="614.34" font-size="4.2" text-anchor="end" fill="#222" font-weight="normal">0.8</text>
<line x1="566.00" y1="597.20" x2="567.50" y2="597.20" stroke="#333" stroke-width="0.6"/>
<text x="565.20" y="598.70" font-size="4.2" text-anchor="end" fill="#222" font-weight="normal">1.0</text>
<line x1="568.20" y1="677.50" x2="568.20" y2="679.00" stroke="#333" stroke-width="0.6"/>
<text x="568.70" y="684.10" font-size="4.2" text-anchor="middle" fill="#222" font-weight="normal">1.2</text>
<line x1="583.70" y1="677.50" x2="583.70" y2="679.00" stroke="#333" stroke-width="0.6"/>
<text x="584.20" y="684.10" font-size="4.2" text-anchor="middle" fill="#222" font-weight="normal">1.0</text>
<line x1="599.20" y1="677.50" x2="599.20" y2="679.00" stroke="#333" stroke-width="0.6"/>
<text x="599.70" y="684.10" font-size="4.2" text-anchor="middle" fill="#222" font-weight="normal">0.8</text>
<line x1="614.70" y1="677.50" x2="614.70" y2="679.00" stroke="#333" stroke-width="0.6"/>
<text x="615.20" y="684.10" font-size="4.2" text-anchor="middle" fill="#222" font-weight="normal">0.6</text>
<line x1="630.20" y1="677.50" x2="630.20" y2="679.00" stroke="#333" stroke-width="0.6"/>
<text x="630.70" y="684.10" font-size="4.2" text-anchor="middle" fill="#222" font-weight="normal">0.4</text>
<line x1="645.70" y1="677.50" x2="645.70" y2="679.00" stroke="#333" stroke-width="0.6"/>
<text x="646.20" y="684.10" font-size="4.2" text-anchor="middle" fill="#222" font-weight="normal">0.2</text>
<line x1="661.20" y1="677.50" x2="661.20" y2="679.00" stroke="#333" stroke-width="0.6"/>
<text x="661.70" y="684.10" font-size="4.2" text-anchor="middle" fill="#222" font-weight="normal">0.0</text>
<line x1="676.70" y1="677.50" x2="676.70" y2="679.00" stroke="#333" stroke-width="0.6"/>
<text x="677.20" y="684.10" font-size="4.2" text-anchor="middle" fill="#222" font-weight="normal">-0.2</text>
<line x1="579.30" y1="677.50" x2="665.28" y2="595.50" stroke="#999999" stroke-width="0.5"/>
<polyline points="581.5,675.4 581.5,622.4 663.5,597.4000000000001" fill="none" stroke="#FF0000" stroke-width="0.8"/>
<polyline points="581.5,675.4 581.5,621.1999999999999 663.5,596.9000000000001" fill="none" stroke="#0000FF" stroke-width="0.8"/>
<circle cx="581.5" cy="675.4" r="0.9" fill="#0000FF"/>
<circle cx="663.5" cy="597.2" r="0.9" fill="#0000FF"/>
<circle cx="581.5" cy="621.8" r="0.9" fill="#0000FF"/>
<rect x="620.20" y="663.90" width="57.30" height="13.60" fill="#FFFFFF" stroke="#333333" stroke-width="0.6"/>
<clipPath id="lc2"><rect x="620.2" y="663.9" width="57.299999999999955" height="13.600000000000023"/></clipPath>
<g clip-path="url(#lc2)">
<line x1="622.30" y1="668.50" x2="628.70" y2="668.50" stroke="#FF0000" stroke-width="0.6"/>
<text x="629.60" y="670.00" font-size="4.4" fill="#111" textLength="47" lengthAdjust="spacingAndGlyphs">Replicate 1 AUC value:0.845</text>
<line x1="622.30" y1="673.60" x2="628.70" y2="673.60" stroke="#0000FF" stroke-width="0.6"/>
<text x="629.60" y="675.10" font-size="4.4" fill="#111" textLength="47" lengthAdjust="spacingAndGlyphs">Replicate 2 AUC value:0.849</text>
</g>
<text x="545.50" y="640.20" font-size="12.2" text-anchor="middle" fill="#1a1a1a" font-weight="normal" transform="rotate(-90 545.50 640.20)">Sensitivity</text>
<text x="619.00" y="701.60" font-size="12.1" text-anchor="middle" fill="#1a1a1a" font-weight="normal">Specificity</text>
<text x="623.00" y="736.60" font-size="12.1" text-anchor="middle" fill="#1a1a1a" font-weight="normal">Scenario 4&#160; ROC space</text>
<rect x="568.50" y="742.50" width="110.00" height="82.00" fill="#FFFFFF" stroke="#555555" stroke-width="0.9"/>
<line x1="567.00" y1="823.40" x2="568.50" y2="823.40" stroke="#333" stroke-width="0.6"/>
<text x="566.20" y="824.90" font-size="4.2" text-anchor="end" fill="#222" font-weight="normal">0.0</text>
<line x1="567.00" y1="807.78" x2="568.50" y2="807.78" stroke="#333" stroke-width="0.6"/>
<text x="566.20" y="809.28" font-size="4.2" text-anchor="end" fill="#222" font-weight="normal">0.2</text>
<line x1="567.00" y1="792.16" x2="568.50" y2="792.16" stroke="#333" stroke-width="0.6"/>
<text x="566.20" y="793.66" font-size="4.2" text-anchor="end" fill="#222" font-weight="normal">0.4</text>
<line x1="567.00" y1="776.54" x2="568.50" y2="776.54" stroke="#333" stroke-width="0.6"/>
<text x="566.20" y="778.04" font-size="4.2" text-anchor="end" fill="#222" font-weight="normal">0.6</text>
<line x1="567.00" y1="760.92" x2="568.50" y2="760.92" stroke="#333" stroke-width="0.6"/>
<text x="566.20" y="762.42" font-size="4.2" text-anchor="end" fill="#222" font-weight="normal">0.8</text>
<line x1="567.00" y1="745.30" x2="568.50" y2="745.30" stroke="#333" stroke-width="0.6"/>
<text x="566.20" y="746.80" font-size="4.2" text-anchor="end" fill="#222" font-weight="normal">1.0</text>
<line x1="569.20" y1="824.50" x2="569.20" y2="826.00" stroke="#333" stroke-width="0.6"/>
<text x="569.70" y="831.10" font-size="4.2" text-anchor="middle" fill="#222" font-weight="normal">1.2</text>
<line x1="584.70" y1="824.50" x2="584.70" y2="826.00" stroke="#333" stroke-width="0.6"/>
<text x="585.20" y="831.10" font-size="4.2" text-anchor="middle" fill="#222" font-weight="normal">1.0</text>
<line x1="600.20" y1="824.50" x2="600.20" y2="826.00" stroke="#333" stroke-width="0.6"/>
<text x="600.70" y="831.10" font-size="4.2" text-anchor="middle" fill="#222" font-weight="normal">0.8</text>
<line x1="615.70" y1="824.50" x2="615.70" y2="826.00" stroke="#333" stroke-width="0.6"/>
<text x="616.20" y="831.10" font-size="4.2" text-anchor="middle" fill="#222" font-weight="normal">0.6</text>
<line x1="631.20" y1="824.50" x2="631.20" y2="826.00" stroke="#333" stroke-width="0.6"/>
<text x="631.70" y="831.10" font-size="4.2" text-anchor="middle" fill="#222" font-weight="normal">0.4</text>
<line x1="646.70" y1="824.50" x2="646.70" y2="826.00" stroke="#333" stroke-width="0.6"/>
<text x="647.20" y="831.10" font-size="4.2" text-anchor="middle" fill="#222" font-weight="normal">0.2</text>
<line x1="662.20" y1="824.50" x2="662.20" y2="826.00" stroke="#333" stroke-width="0.6"/>
<text x="662.70" y="831.10" font-size="4.2" text-anchor="middle" fill="#222" font-weight="normal">0.0</text>
<line x1="677.70" y1="824.50" x2="677.70" y2="826.00" stroke="#333" stroke-width="0.6"/>
<text x="678.20" y="831.10" font-size="4.2" text-anchor="middle" fill="#222" font-weight="normal">-0.2</text>
<line x1="581.34" y1="824.50" x2="667.65" y2="742.50" stroke="#999999" stroke-width="0.5"/>
<polyline points="582.5,823.4 582.5,768.3000000000001 664.7,745.5" fill="none" stroke="#FF0000" stroke-width="0.8"/>
<polyline points="582.5,823.4 582.5,767.1 664.7,745.0" fill="none" stroke="#0000FF" stroke-width="0.8"/>
<circle cx="582.5" cy="823.4" r="0.9" fill="#0000FF"/>
<circle cx="664.7" cy="745.3" r="0.9" fill="#0000FF"/>
<circle cx="582.5" cy="767.7" r="0.9" fill="#0000FF"/>
<rect x="621.50" y="811.70" width="57.00" height="12.80" fill="#FFFFFF" stroke="#333333" stroke-width="0.6"/>
<clipPath id="lc4"><rect x="621.5" y="811.7" width="57.0" height="12.799999999999955"/></clipPath>
<g clip-path="url(#lc4)">
<line x1="623.60" y1="816.30" x2="630.00" y2="816.30" stroke="#FF0000" stroke-width="0.6"/>
<text x="630.90" y="817.80" font-size="4.4" fill="#111" textLength="47" lengthAdjust="spacingAndGlyphs">Replicate 1 AUC value:0.847</text>
<line x1="623.60" y1="821.40" x2="630.00" y2="821.40" stroke="#0000FF" stroke-width="0.6"/>
<text x="630.90" y="822.90" font-size="4.4" fill="#111" textLength="47" lengthAdjust="spacingAndGlyphs">Replicate 2 AUC value:0.852</text>
</g>
<text x="545.50" y="787.50" font-size="12.2" text-anchor="middle" fill="#1a1a1a" font-weight="normal" transform="rotate(-90 545.50 787.50)">Sensitivity</text>
<text x="619.00" y="849.40" font-size="12.1" text-anchor="middle" fill="#1a1a1a" font-weight="normal">Specificity</text>
</svg></body></html>
